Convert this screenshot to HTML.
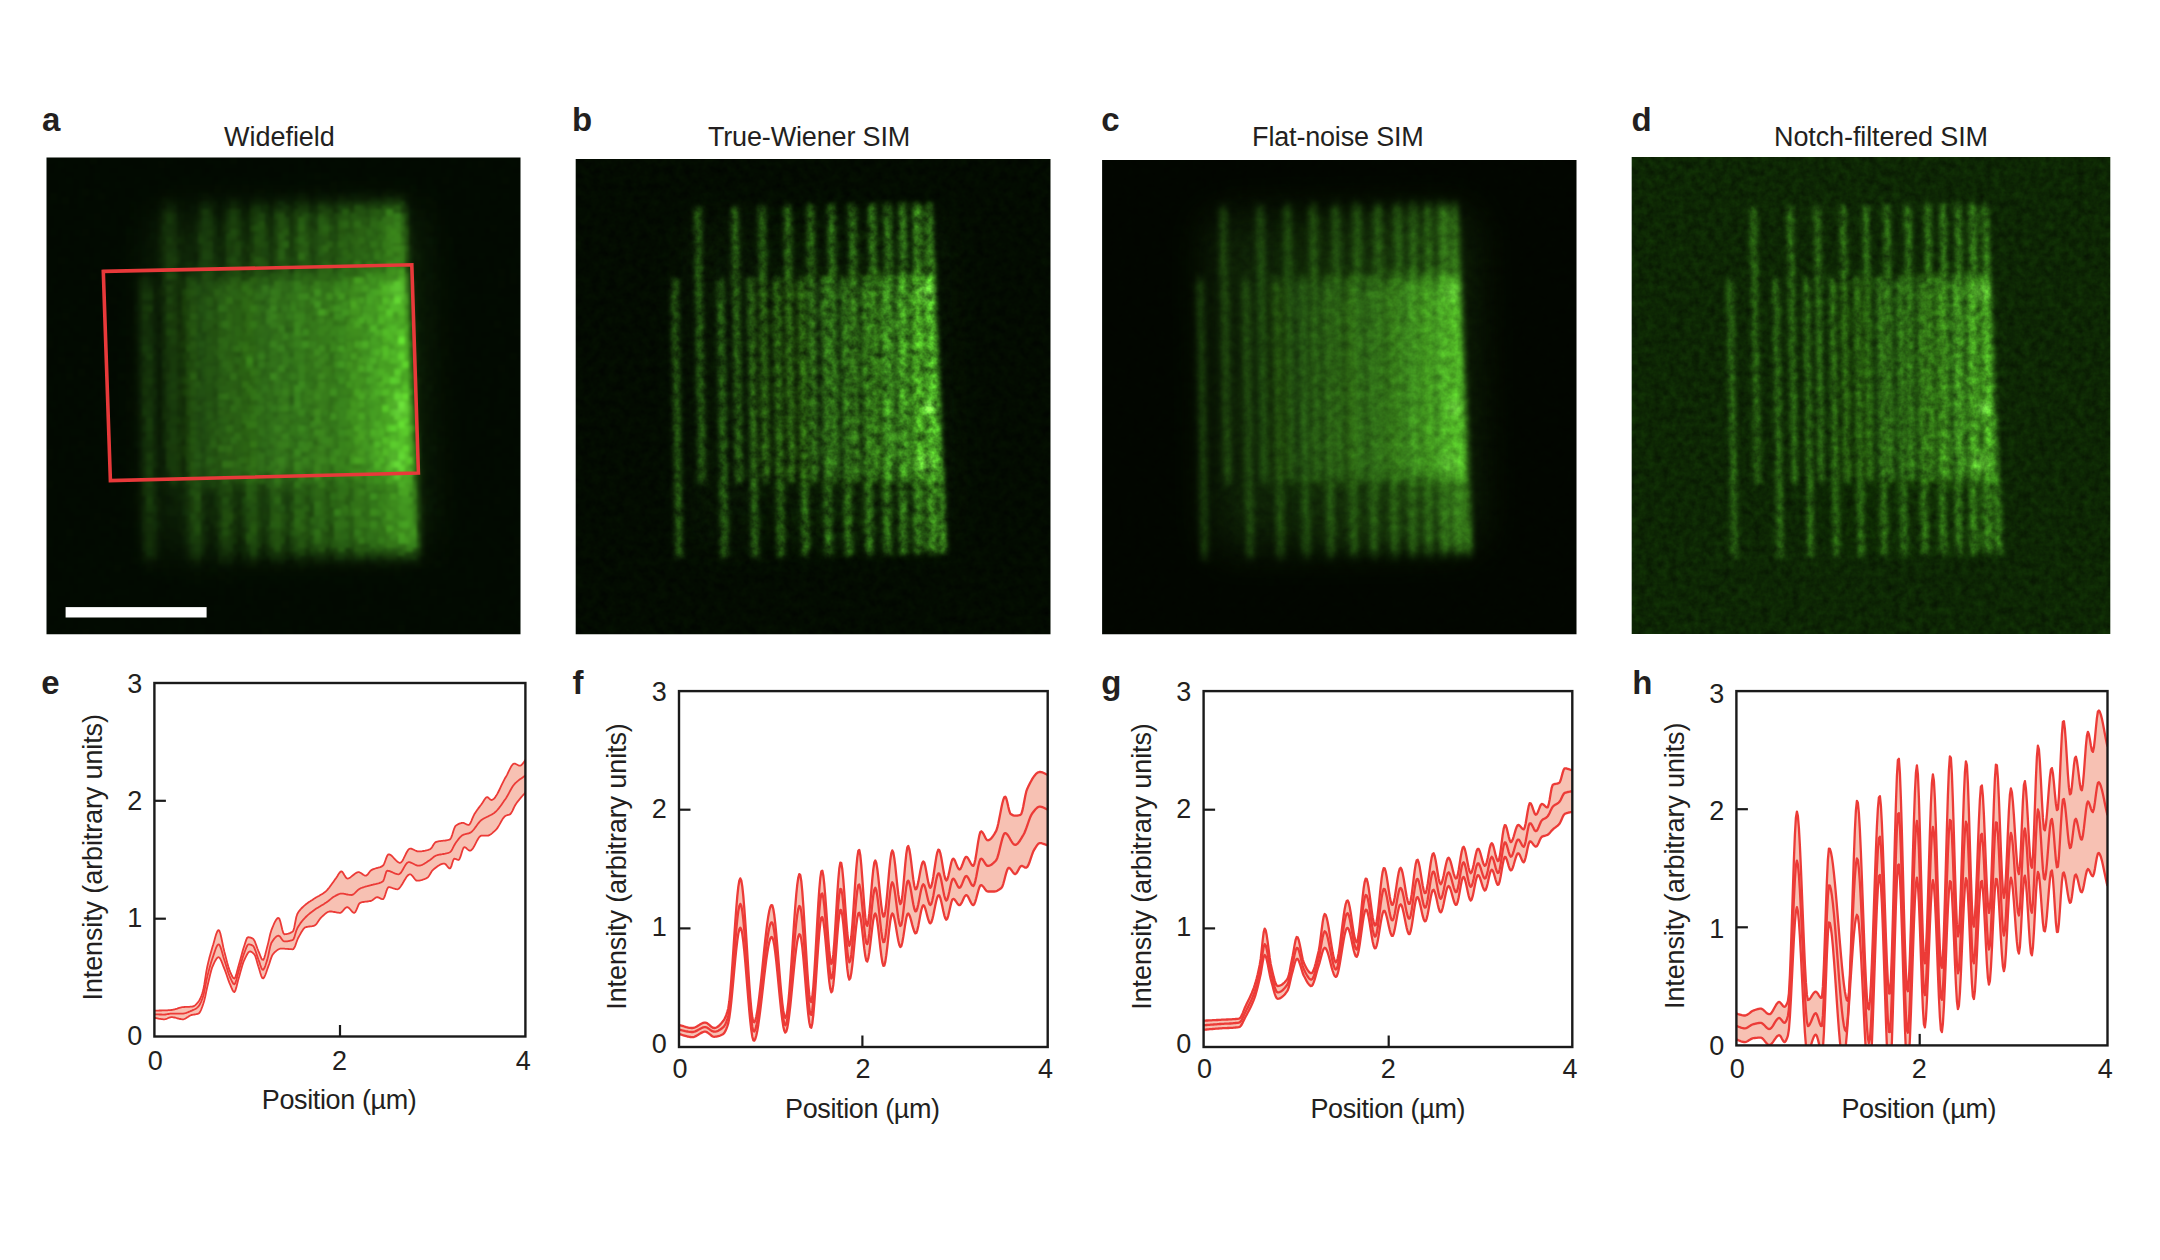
<!DOCTYPE html>
<html lang="en"><head><meta charset="utf-8"><title>Figure</title>
<style>html,body{margin:0;padding:0;background:#fff}body{width:2160px;height:1260px;overflow:hidden}svg{display:block}text{font-family:"Liberation Sans", sans-serif;fill:#231f20}.b{font-weight:bold;font-size:33px}.t{font-size:27px}</style></head><body>
<svg width="2160" height="1260" viewBox="0 0 2160 1260">
<rect width="2160" height="1260" fill="#fff"/>
<clipPath id="pca"><rect x="46.5" y="157.5" width="474.0" height="476.8"/></clipPath>
<filter id="pfa" filterUnits="userSpaceOnUse" x="6" y="118" width="554" height="557" color-interpolation-filters="sRGB"><feGaussianBlur in="SourceGraphic" stdDeviation="3.9 7.0" result="bl"/><feTurbulence type="fractalNoise" baseFrequency="0.190" numOctaves="3" seed="4" result="n"/><feColorMatrix in="n" type="matrix" values="1 0 0 0 0 1 0 0 0 0 1 0 0 0 0 0 0 0 0 1" result="ng"/><feComposite in="bl" in2="ng" operator="arithmetic" k1="0.90" k2="0.55" k3="0" k4="0" result="sp"/><feFlood x="8.5" y="119.5" width="1" height="1" flood-color="#000"/><feComposite width="5" height="5"/><feTile result="grid"/><feComposite in="sp" in2="grid" operator="in"/><feMorphology operator="dilate" radius="2.5" result="px"/><feGaussianBlur in="px" stdDeviation="1.6"/></filter>
<filter id="pha" filterUnits="userSpaceOnUse" x="-14" y="98" width="594" height="597"><feGaussianBlur stdDeviation="22"/></filter>
<filter id="pba" filterUnits="userSpaceOnUse" x="-14" y="98" width="594" height="597"><feGaussianBlur stdDeviation="5.0"/></filter>
<linearGradient id="pga" gradientUnits="userSpaceOnUse" x1="172.0" y1="0" x2="415.0" y2="0"><stop offset="0.000" stop-color="#62dc30" stop-opacity="0.00"/><stop offset="0.103" stop-color="#62dc30" stop-opacity="0.08"/><stop offset="0.309" stop-color="#62dc30" stop-opacity="0.19"/><stop offset="0.720" stop-color="#62dc30" stop-opacity="0.27"/><stop offset="0.905" stop-color="#62dc30" stop-opacity="0.46"/><stop offset="1.000" stop-color="#62dc30" stop-opacity="0.66"/></linearGradient>
<linearGradient id="pta" gradientUnits="userSpaceOnUse" x1="217.0" y1="0" x2="415.0" y2="0"><stop offset="0" stop-color="#62dc30" stop-opacity="0"/><stop offset="1" stop-color="#62dc30" stop-opacity="1"/></linearGradient>
<g clip-path="url(#pca)">
<g filter="url(#pfa)">
<rect x="6.5" y="117.5" width="554.0" height="556.8" fill="#020901"/>
<rect x="157.0" y="215.0" width="265.0" height="331.0" fill="#62dc30" opacity="0.12" filter="url(#pha)" transform="rotate(-0.9 284.0 395.0)"/>
<clipPath id="pea"><polygon points="107.0,180 405.3,180 416.2,580 107.0,580"/></clipPath>
<g transform="rotate(-0.9 284.0 395.0)"><g clip-path="url(#pea)">
<rect x="167.1" y="205.0" width="10.0" height="277.0" fill="#62dc30" opacity="0.17"/>
<rect x="204.1" y="205.0" width="10.0" height="277.0" fill="#62dc30" opacity="0.19"/>
<rect x="231.1" y="205.0" width="10.0" height="277.0" fill="#62dc30" opacity="0.20"/>
<rect x="256.8" y="205.0" width="10.0" height="277.0" fill="#62dc30" opacity="0.21"/>
<rect x="279.6" y="205.0" width="10.0" height="277.0" fill="#62dc30" opacity="0.22"/>
<rect x="300.5" y="205.0" width="10.0" height="277.0" fill="#62dc30" opacity="0.23"/>
<rect x="321.5" y="205.0" width="10.0" height="277.0" fill="#62dc30" opacity="0.23"/>
<rect x="341.5" y="205.0" width="10.0" height="277.0" fill="#62dc30" opacity="0.24"/>
<rect x="356.8" y="205.0" width="10.0" height="277.0" fill="#62dc30" opacity="0.25"/>
<rect x="371.8" y="205.0" width="10.0" height="277.0" fill="#62dc30" opacity="0.26"/>
<rect x="385.8" y="205.0" width="10.0" height="277.0" fill="#62dc30" opacity="0.26"/>
<rect x="400.5" y="205.0" width="10.0" height="277.0" fill="#62dc30" opacity="0.27"/>
<rect x="142.9" y="277.0" width="10.0" height="279.0" fill="#62dc30" opacity="0.18"/>
<rect x="188.6" y="277.0" width="10.0" height="279.0" fill="#62dc30" opacity="0.21"/>
<rect x="219.1" y="277.0" width="10.0" height="279.0" fill="#62dc30" opacity="0.22"/>
<rect x="244.9" y="277.0" width="10.0" height="279.0" fill="#62dc30" opacity="0.24"/>
<rect x="269.6" y="277.0" width="10.0" height="279.0" fill="#62dc30" opacity="0.25"/>
<rect x="292.6" y="277.0" width="10.0" height="279.0" fill="#62dc30" opacity="0.26"/>
<rect x="312.6" y="277.0" width="10.0" height="279.0" fill="#62dc30" opacity="0.28"/>
<rect x="333.4" y="277.0" width="10.0" height="279.0" fill="#62dc30" opacity="0.29"/>
<rect x="351.6" y="277.0" width="10.0" height="279.0" fill="#62dc30" opacity="0.30"/>
<rect x="367.6" y="277.0" width="10.0" height="279.0" fill="#62dc30" opacity="0.31"/>
<rect x="381.9" y="277.0" width="10.0" height="279.0" fill="#62dc30" opacity="0.32"/>
<rect x="396.9" y="277.0" width="10.0" height="279.0" fill="#62dc30" opacity="0.32"/>
<rect x="407.6" y="277.0" width="10.0" height="279.0" fill="#62dc30" opacity="0.33"/>
<rect x="172.0" y="279.0" width="243.0" height="201.0" fill="url(#pga)" filter="url(#pba)"/>
<rect x="217.0" y="209.0" width="198" height="68.0" fill="url(#pta)" opacity="0.24" filter="url(#pba)"/>
<rect x="217.0" y="482.0" width="198" height="70.0" fill="url(#pta)" opacity="0.34" filter="url(#pba)"/>
<rect x="389.0" y="209.0" width="26" height="343.0" fill="#62dc30" opacity="0.20"/>
</g></g>
<circle cx="400.5" cy="408.0" r="6.0" fill="#8cff58" opacity="0.54"/>
<circle cx="398.0" cy="292.0" r="9.0" fill="#8cff58" opacity="0.23"/>
<circle cx="396.0" cy="463.0" r="10.0" fill="#8cff58" opacity="0.19"/>
</g>
<polygon points="103.3,271.4 411.8,264.8 418.4,473.0 110.4,480.6" fill="none" stroke="#e8393a" stroke-width="3.6"/>
<rect x="65.6" y="607.1" width="141" height="10.4" fill="#fff"/>
</g>
<clipPath id="pcb"><rect x="575.7" y="159.0" width="474.8" height="475.2"/></clipPath>
<filter id="pfb" filterUnits="userSpaceOnUse" x="536" y="119" width="555" height="555" color-interpolation-filters="sRGB"><feGaussianBlur in="SourceGraphic" stdDeviation="2.7 2.7" result="bl"/><feTurbulence type="fractalNoise" baseFrequency="0.120" numOctaves="3" seed="7" result="n"/><feColorMatrix in="n" type="matrix" values="1 0 0 0 0 1 0 0 0 0 1 0 0 0 0 0 0 0 0 1" result="ng"/><feComposite in="bl" in2="ng" operator="arithmetic" k1="1.30" k2="0.35" k3="0" k4="0" result="sp"/></filter>
<filter id="phb" filterUnits="userSpaceOnUse" x="516" y="99" width="595" height="595"><feGaussianBlur stdDeviation="22"/></filter>
<filter id="pbb" filterUnits="userSpaceOnUse" x="516" y="99" width="595" height="595"><feGaussianBlur stdDeviation="7.0"/></filter>
<linearGradient id="pgb" gradientUnits="userSpaceOnUse" x1="735.7" y1="0" x2="943.7" y2="0"><stop offset="0.000" stop-color="#62dc30" stop-opacity="0.00"/><stop offset="0.192" stop-color="#62dc30" stop-opacity="0.04"/><stop offset="0.577" stop-color="#62dc30" stop-opacity="0.12"/><stop offset="0.865" stop-color="#62dc30" stop-opacity="0.29"/><stop offset="1.000" stop-color="#62dc30" stop-opacity="0.46"/></linearGradient>
<linearGradient id="ptb" gradientUnits="userSpaceOnUse" x1="745.7" y1="0" x2="943.7" y2="0"><stop offset="0" stop-color="#62dc30" stop-opacity="0"/><stop offset="1" stop-color="#62dc30" stop-opacity="1"/></linearGradient>
<g clip-path="url(#pcb)">
<g filter="url(#pfb)">
<rect x="535.7" y="119.0" width="554.8" height="555.2" fill="#030b01"/>
<rect x="685.7" y="215.0" width="265.0" height="331.0" fill="#62dc30" opacity="0.04" filter="url(#phb)" transform="rotate(-0.9 812.7 395.0)"/>
<clipPath id="peb"><polygon points="635.7,180 934.0,180 944.9,580 635.7,580"/></clipPath>
<g transform="rotate(-0.9 812.7 395.0)"><g clip-path="url(#peb)">
<rect x="697.3" y="205.0" width="7.0" height="277.0" fill="#62dc30" opacity="0.34"/>
<rect x="734.3" y="205.0" width="7.0" height="277.0" fill="#62dc30" opacity="0.36"/>
<rect x="761.3" y="205.0" width="7.0" height="277.0" fill="#62dc30" opacity="0.38"/>
<rect x="787.0" y="205.0" width="7.0" height="277.0" fill="#62dc30" opacity="0.39"/>
<rect x="809.8" y="205.0" width="7.0" height="277.0" fill="#62dc30" opacity="0.40"/>
<rect x="830.7" y="205.0" width="7.0" height="277.0" fill="#62dc30" opacity="0.41"/>
<rect x="851.7" y="205.0" width="7.0" height="277.0" fill="#62dc30" opacity="0.42"/>
<rect x="871.7" y="205.0" width="7.0" height="277.0" fill="#62dc30" opacity="0.43"/>
<rect x="887.0" y="205.0" width="7.0" height="277.0" fill="#62dc30" opacity="0.44"/>
<rect x="902.0" y="205.0" width="7.0" height="277.0" fill="#62dc30" opacity="0.45"/>
<rect x="916.0" y="205.0" width="7.0" height="277.0" fill="#62dc30" opacity="0.46"/>
<rect x="930.7" y="205.0" width="7.0" height="277.0" fill="#62dc30" opacity="0.47"/>
<rect x="673.1" y="277.0" width="7.0" height="279.0" fill="#62dc30" opacity="0.33"/>
<rect x="718.8" y="277.0" width="7.0" height="279.0" fill="#62dc30" opacity="0.35"/>
<rect x="749.3" y="277.0" width="7.0" height="279.0" fill="#62dc30" opacity="0.37"/>
<rect x="775.1" y="277.0" width="7.0" height="279.0" fill="#62dc30" opacity="0.38"/>
<rect x="799.8" y="277.0" width="7.0" height="279.0" fill="#62dc30" opacity="0.40"/>
<rect x="822.8" y="277.0" width="7.0" height="279.0" fill="#62dc30" opacity="0.41"/>
<rect x="842.8" y="277.0" width="7.0" height="279.0" fill="#62dc30" opacity="0.42"/>
<rect x="863.6" y="277.0" width="7.0" height="279.0" fill="#62dc30" opacity="0.43"/>
<rect x="881.8" y="277.0" width="7.0" height="279.0" fill="#62dc30" opacity="0.44"/>
<rect x="897.8" y="277.0" width="7.0" height="279.0" fill="#62dc30" opacity="0.45"/>
<rect x="912.1" y="277.0" width="7.0" height="279.0" fill="#62dc30" opacity="0.46"/>
<rect x="927.1" y="277.0" width="7.0" height="279.0" fill="#62dc30" opacity="0.46"/>
<rect x="937.8" y="277.0" width="7.0" height="279.0" fill="#62dc30" opacity="0.47"/>
<rect x="735.7" y="279.0" width="208.0" height="201.0" fill="url(#pgb)" filter="url(#pbb)"/>
<rect x="745.7" y="209.0" width="198" height="68.0" fill="url(#ptb)" opacity="0.05" filter="url(#pbb)"/>
<rect x="745.7" y="482.0" width="198" height="70.0" fill="url(#ptb)" opacity="0.10" filter="url(#pbb)"/>
<rect x="917.7" y="209.0" width="26" height="343.0" fill="#62dc30" opacity="0.20"/>
</g></g>
<circle cx="929.2" cy="408.0" r="6.0" fill="#8cff58" opacity="0.90"/>
<circle cx="926.7" cy="292.0" r="9.0" fill="#8cff58" opacity="0.38"/>
<circle cx="924.7" cy="463.0" r="10.0" fill="#8cff58" opacity="0.32"/>
</g>
</g>
<clipPath id="pcc"><rect x="1102.1" y="160.0" width="474.4" height="474.2"/></clipPath>
<filter id="pfc" filterUnits="userSpaceOnUse" x="1062" y="120" width="554" height="554" color-interpolation-filters="sRGB"><feGaussianBlur in="SourceGraphic" stdDeviation="3.0 5.0" result="bl"/><feTurbulence type="fractalNoise" baseFrequency="0.120" numOctaves="3" seed="11" result="n"/><feColorMatrix in="n" type="matrix" values="1 0 0 0 0 1 0 0 0 0 1 0 0 0 0 0 0 0 0 1" result="ng"/><feComposite in="bl" in2="ng" operator="arithmetic" k1="0.50" k2="0.75" k3="0" k4="0" result="sp"/></filter>
<filter id="phc" filterUnits="userSpaceOnUse" x="1042" y="100" width="594" height="594"><feGaussianBlur stdDeviation="22"/></filter>
<filter id="pbc" filterUnits="userSpaceOnUse" x="1042" y="100" width="594" height="594"><feGaussianBlur stdDeviation="7.0"/></filter>
<linearGradient id="pgc" gradientUnits="userSpaceOnUse" x1="1261.1" y1="0" x2="1469.1" y2="0"><stop offset="0.000" stop-color="#62dc30" stop-opacity="0.00"/><stop offset="0.216" stop-color="#62dc30" stop-opacity="0.11"/><stop offset="0.577" stop-color="#62dc30" stop-opacity="0.24"/><stop offset="0.817" stop-color="#62dc30" stop-opacity="0.46"/><stop offset="1.000" stop-color="#62dc30" stop-opacity="0.68"/></linearGradient>
<linearGradient id="ptc" gradientUnits="userSpaceOnUse" x1="1271.1" y1="0" x2="1469.1" y2="0"><stop offset="0" stop-color="#62dc30" stop-opacity="0"/><stop offset="1" stop-color="#62dc30" stop-opacity="1"/></linearGradient>
<g clip-path="url(#pcc)">
<g filter="url(#pfc)">
<rect x="1062.1" y="120.0" width="554.4" height="554.2" fill="#020600"/>
<rect x="1211.1" y="215.0" width="265.0" height="331.0" fill="#62dc30" opacity="0.13" filter="url(#phc)" transform="rotate(-0.9 1338.1 395.0)"/>
<clipPath id="pec"><polygon points="1161.1,180 1459.4,180 1470.3,580 1161.1,580"/></clipPath>
<g transform="rotate(-0.9 1338.1 395.0)"><g clip-path="url(#pec)">
<rect x="1222.9" y="205.0" width="6.5" height="277.0" fill="#62dc30" opacity="0.27"/>
<rect x="1259.9" y="205.0" width="6.5" height="277.0" fill="#62dc30" opacity="0.29"/>
<rect x="1286.9" y="205.0" width="6.5" height="277.0" fill="#62dc30" opacity="0.31"/>
<rect x="1312.6" y="205.0" width="6.5" height="277.0" fill="#62dc30" opacity="0.32"/>
<rect x="1335.4" y="205.0" width="6.5" height="277.0" fill="#62dc30" opacity="0.33"/>
<rect x="1356.3" y="205.0" width="6.5" height="277.0" fill="#62dc30" opacity="0.34"/>
<rect x="1377.3" y="205.0" width="6.5" height="277.0" fill="#62dc30" opacity="0.35"/>
<rect x="1397.3" y="205.0" width="6.5" height="277.0" fill="#62dc30" opacity="0.36"/>
<rect x="1412.6" y="205.0" width="6.5" height="277.0" fill="#62dc30" opacity="0.37"/>
<rect x="1427.6" y="205.0" width="6.5" height="277.0" fill="#62dc30" opacity="0.38"/>
<rect x="1441.6" y="205.0" width="6.5" height="277.0" fill="#62dc30" opacity="0.39"/>
<rect x="1456.3" y="205.0" width="6.5" height="277.0" fill="#62dc30" opacity="0.40"/>
<rect x="1198.8" y="277.0" width="6.5" height="279.0" fill="#62dc30" opacity="0.26"/>
<rect x="1244.4" y="277.0" width="6.5" height="279.0" fill="#62dc30" opacity="0.28"/>
<rect x="1274.9" y="277.0" width="6.5" height="279.0" fill="#62dc30" opacity="0.30"/>
<rect x="1300.8" y="277.0" width="6.5" height="279.0" fill="#62dc30" opacity="0.31"/>
<rect x="1325.4" y="277.0" width="6.5" height="279.0" fill="#62dc30" opacity="0.33"/>
<rect x="1348.4" y="277.0" width="6.5" height="279.0" fill="#62dc30" opacity="0.34"/>
<rect x="1368.4" y="277.0" width="6.5" height="279.0" fill="#62dc30" opacity="0.35"/>
<rect x="1389.2" y="277.0" width="6.5" height="279.0" fill="#62dc30" opacity="0.36"/>
<rect x="1407.4" y="277.0" width="6.5" height="279.0" fill="#62dc30" opacity="0.37"/>
<rect x="1423.4" y="277.0" width="6.5" height="279.0" fill="#62dc30" opacity="0.38"/>
<rect x="1437.8" y="277.0" width="6.5" height="279.0" fill="#62dc30" opacity="0.39"/>
<rect x="1452.8" y="277.0" width="6.5" height="279.0" fill="#62dc30" opacity="0.39"/>
<rect x="1463.4" y="277.0" width="6.5" height="279.0" fill="#62dc30" opacity="0.40"/>
<rect x="1261.1" y="279.0" width="208.0" height="201.0" fill="url(#pgc)" filter="url(#pbc)"/>
<rect x="1271.1" y="209.0" width="198" height="68.0" fill="url(#ptc)" opacity="0.12" filter="url(#pbc)"/>
<rect x="1271.1" y="482.0" width="198" height="70.0" fill="url(#ptc)" opacity="0.18" filter="url(#pbc)"/>
<rect x="1443.1" y="209.0" width="26" height="343.0" fill="#62dc30" opacity="0.22"/>
</g></g>
<circle cx="1454.6" cy="408.0" r="6.0" fill="#8cff58" opacity="0.72"/>
<circle cx="1452.1" cy="292.0" r="9.0" fill="#8cff58" opacity="0.30"/>
<circle cx="1450.1" cy="463.0" r="10.0" fill="#8cff58" opacity="0.26"/>
</g>
</g>
<clipPath id="pcd"><rect x="1631.7" y="157.1" width="478.6" height="477.0"/></clipPath>
<filter id="pfd" filterUnits="userSpaceOnUse" x="1592" y="117" width="559" height="557" color-interpolation-filters="sRGB"><feGaussianBlur in="SourceGraphic" stdDeviation="2.5 2.5" result="bl"/><feTurbulence type="fractalNoise" baseFrequency="0.130" numOctaves="3" seed="19" result="n"/><feColorMatrix in="n" type="matrix" values="1 0 0 0 0 1 0 0 0 0 1 0 0 0 0 0 0 0 0 1" result="ng"/><feComposite in="bl" in2="ng" operator="arithmetic" k1="1.00" k2="0.50" k3="0" k4="0" result="sp"/></filter>
<filter id="phd" filterUnits="userSpaceOnUse" x="1572" y="97" width="599" height="597"><feGaussianBlur stdDeviation="22"/></filter>
<filter id="pbd" filterUnits="userSpaceOnUse" x="1572" y="97" width="599" height="597"><feGaussianBlur stdDeviation="7.0"/></filter>
<linearGradient id="pgd" gradientUnits="userSpaceOnUse" x1="1821.2" y1="0" x2="1999.2" y2="0"><stop offset="0.000" stop-color="#66e233" stop-opacity="0.00"/><stop offset="0.281" stop-color="#66e233" stop-opacity="0.06"/><stop offset="0.674" stop-color="#66e233" stop-opacity="0.16"/><stop offset="1.000" stop-color="#66e233" stop-opacity="0.30"/></linearGradient>
<linearGradient id="ptd" gradientUnits="userSpaceOnUse" x1="1801.2" y1="0" x2="1999.2" y2="0"><stop offset="0" stop-color="#66e233" stop-opacity="0"/><stop offset="1" stop-color="#66e233" stop-opacity="1"/></linearGradient>
<g clip-path="url(#pcd)">
<g filter="url(#pfd)">
<rect x="1591.7" y="117.1" width="558.6" height="557.0" fill="#0d2604"/>
<clipPath id="ped"><polygon points="1691.2,180 1989.5,180 2000.4,580 1691.2,580"/></clipPath>
<g transform="rotate(-0.9 1868.2 395.0)"><g clip-path="url(#ped)">
<rect x="1753.3" y="205.0" width="6.0" height="277.0" fill="#66e233" opacity="0.34"/>
<rect x="1790.3" y="205.0" width="6.0" height="277.0" fill="#66e233" opacity="0.36"/>
<rect x="1817.3" y="205.0" width="6.0" height="277.0" fill="#66e233" opacity="0.37"/>
<rect x="1843.0" y="205.0" width="6.0" height="277.0" fill="#66e233" opacity="0.38"/>
<rect x="1865.8" y="205.0" width="6.0" height="277.0" fill="#66e233" opacity="0.39"/>
<rect x="1886.7" y="205.0" width="6.0" height="277.0" fill="#66e233" opacity="0.40"/>
<rect x="1907.7" y="205.0" width="6.0" height="277.0" fill="#66e233" opacity="0.41"/>
<rect x="1927.7" y="205.0" width="6.0" height="277.0" fill="#66e233" opacity="0.42"/>
<rect x="1943.0" y="205.0" width="6.0" height="277.0" fill="#66e233" opacity="0.43"/>
<rect x="1958.0" y="205.0" width="6.0" height="277.0" fill="#66e233" opacity="0.43"/>
<rect x="1972.0" y="205.0" width="6.0" height="277.0" fill="#66e233" opacity="0.44"/>
<rect x="1986.7" y="205.0" width="6.0" height="277.0" fill="#66e233" opacity="0.45"/>
<rect x="1729.1" y="277.0" width="6.0" height="279.0" fill="#66e233" opacity="0.33"/>
<rect x="1774.8" y="277.0" width="6.0" height="279.0" fill="#66e233" opacity="0.35"/>
<rect x="1805.3" y="277.0" width="6.0" height="279.0" fill="#66e233" opacity="0.36"/>
<rect x="1831.1" y="277.0" width="6.0" height="279.0" fill="#66e233" opacity="0.38"/>
<rect x="1855.8" y="277.0" width="6.0" height="279.0" fill="#66e233" opacity="0.39"/>
<rect x="1878.8" y="277.0" width="6.0" height="279.0" fill="#66e233" opacity="0.40"/>
<rect x="1898.8" y="277.0" width="6.0" height="279.0" fill="#66e233" opacity="0.41"/>
<rect x="1919.6" y="277.0" width="6.0" height="279.0" fill="#66e233" opacity="0.42"/>
<rect x="1937.8" y="277.0" width="6.0" height="279.0" fill="#66e233" opacity="0.42"/>
<rect x="1953.8" y="277.0" width="6.0" height="279.0" fill="#66e233" opacity="0.43"/>
<rect x="1968.1" y="277.0" width="6.0" height="279.0" fill="#66e233" opacity="0.44"/>
<rect x="1983.1" y="277.0" width="6.0" height="279.0" fill="#66e233" opacity="0.44"/>
<rect x="1993.8" y="277.0" width="6.0" height="279.0" fill="#66e233" opacity="0.45"/>
<rect x="1821.2" y="279.0" width="178.0" height="201.0" fill="url(#pgd)" filter="url(#pbd)"/>
<rect x="1801.2" y="482.0" width="198" height="70.0" fill="url(#ptd)" opacity="0.05" filter="url(#pbd)"/>
<rect x="1973.2" y="209.0" width="26" height="343.0" fill="#66e233" opacity="0.12"/>
</g></g>
<circle cx="1984.7" cy="408.0" r="6.0" fill="#8cff58" opacity="0.63"/>
<circle cx="1982.2" cy="292.0" r="9.0" fill="#8cff58" opacity="0.27"/>
<circle cx="1980.2" cy="463.0" r="10.0" fill="#8cff58" opacity="0.22"/>
</g>
</g>
<text class="b" x="42.1" y="131.4">a</text>
<text class="b" x="572.0" y="131.4">b</text>
<text class="b" x="1101.2" y="131.4">c</text>
<text class="b" x="1631.4" y="131.4">d</text>
<text class="b" x="41.2" y="693.7">e</text>
<text class="b" x="572.5" y="694.3">f</text>
<text class="b" x="1101.2" y="693.5">g</text>
<text class="b" x="1632.3" y="694.1">h</text>
<text class="t" x="224.1" y="146.2" textLength="110.7" lengthAdjust="spacing">Widefield</text>
<text class="t" x="707.9" y="146.2" textLength="202.4" lengthAdjust="spacing">True-Wiener SIM</text>
<text class="t" x="1252.1" y="146.2" textLength="171.7" lengthAdjust="spacing">Flat-noise SIM</text>
<text class="t" x="1774.1" y="146.2" textLength="214.0" lengthAdjust="spacing">Notch-filtered SIM</text>
<clipPath id="cpe"><rect x="154.4" y="683.0" width="371.0" height="353.5"/></clipPath>
<g clip-path="url(#cpe)"><path d="M154.3,1010.7 155.3,1010.7 156.3,1010.6 157.3,1010.6 158.3,1010.6 159.3,1010.5 160.3,1010.5 161.3,1010.5 162.3,1010.4 163.3,1010.4 164.3,1010.4 165.3,1010.3 166.3,1010.3 167.3,1010.3 168.3,1010.2 169.3,1010.1 170.3,1010.1 171.3,1010.0 172.3,1009.9 173.3,1009.7 174.3,1009.5 175.3,1009.2 176.3,1008.9 177.3,1008.6 178.3,1008.2 179.3,1007.9 180.3,1007.6 181.3,1007.4 182.3,1007.2 183.3,1007.1 184.3,1007.0 185.3,1006.9 186.3,1006.9 187.3,1006.9 188.3,1006.8 189.3,1006.8 190.3,1006.7 191.3,1006.6 192.3,1006.5 193.3,1006.3 194.3,1005.9 195.3,1005.1 196.3,1004.2 197.3,1003.0 198.3,1001.8 199.3,1000.4 200.3,998.5 201.3,996.1 202.3,993.2 203.3,989.8 204.3,984.5 205.3,978.1 206.3,971.7 207.3,966.5 208.3,962.2 209.3,958.1 210.3,954.4 211.3,950.9 212.3,947.5 213.3,944.3 214.3,940.7 215.3,937.1 216.3,933.8 217.3,931.3 218.3,930.1 219.3,930.6 220.3,933.3 221.3,937.5 222.3,942.3 223.3,947.2 224.3,951.4 225.3,955.2 226.3,959.1 227.3,963.0 228.3,966.5 229.3,969.6 230.3,972.1 231.3,974.4 232.3,976.5 233.3,978.0 234.3,978.6 235.3,977.4 236.3,974.4 237.3,970.5 238.3,966.7 239.3,963.3 240.3,959.7 241.3,956.0 242.3,952.3 243.3,948.8 244.3,945.7 245.3,942.6 246.3,939.6 247.3,937.5 248.3,937.2 249.3,937.3 250.3,937.5 251.3,937.9 252.3,938.3 253.3,938.9 254.3,940.4 255.3,942.7 256.3,945.4 257.3,948.2 258.3,950.8 259.3,953.1 260.3,955.7 261.3,958.2 262.3,959.7 263.3,959.8 264.3,957.8 265.3,954.3 266.3,950.4 267.3,946.6 268.3,942.6 269.3,938.1 270.3,933.8 271.3,930.4 272.3,927.9 273.3,925.5 274.3,923.2 275.3,921.2 276.3,919.6 277.3,918.4 278.3,917.9 279.3,918.6 280.3,921.4 281.3,925.5 282.3,929.7 283.3,933.0 284.3,934.3 285.3,934.2 286.3,934.1 287.3,933.9 288.3,933.7 289.3,933.3 290.3,932.9 291.3,932.4 292.3,931.8 293.3,930.8 294.3,927.2 295.3,922.0 296.3,917.0 297.3,914.0 298.3,912.3 299.3,910.8 300.3,909.6 301.3,908.5 302.3,907.5 303.3,906.6 304.3,905.7 305.3,904.8 306.3,904.0 307.3,903.3 308.3,902.5 309.3,901.8 310.3,901.2 311.3,900.5 312.3,899.9 313.3,899.2 314.3,898.6 315.3,897.9 316.3,897.3 317.3,896.8 318.3,896.2 319.3,895.7 320.3,895.1 321.3,894.5 322.3,893.9 323.3,893.3 324.3,892.6 325.3,891.8 326.3,890.9 327.3,889.9 328.3,888.7 329.3,887.5 330.3,886.1 331.3,884.7 332.3,883.3 333.3,881.9 334.3,880.5 335.3,879.1 336.3,877.8 337.3,876.2 338.3,874.5 339.3,873.1 340.3,871.9 341.3,871.4 342.3,871.9 343.3,873.2 344.3,875.0 345.3,876.6 346.3,877.9 347.3,878.6 348.3,878.4 349.3,878.0 350.3,877.4 351.3,876.6 352.3,875.8 353.3,875.0 354.3,874.2 355.3,873.4 356.3,872.8 357.3,872.4 358.3,872.2 359.3,872.2 360.3,872.7 361.3,873.3 362.3,874.0 363.3,874.8 364.3,875.3 365.3,875.7 366.3,875.6 367.3,874.8 368.3,873.6 369.3,872.3 370.3,871.0 371.3,870.1 372.3,869.6 373.3,869.1 374.3,868.8 375.3,868.5 376.3,868.2 377.3,868.0 378.3,867.7 379.3,867.4 380.3,867.1 381.3,866.6 382.3,866.1 383.3,865.3 384.3,863.4 385.3,860.7 386.3,857.9 387.3,855.6 388.3,854.4 389.3,854.4 390.3,854.8 391.3,855.5 392.3,856.4 393.3,857.5 394.3,858.6 395.3,859.7 396.3,860.7 397.3,861.6 398.3,862.3 399.3,862.8 400.3,862.8 401.3,862.2 402.3,861.0 403.3,859.2 404.3,857.2 405.3,855.1 406.3,853.0 407.3,851.2 408.3,849.7 409.3,848.8 410.3,848.6 411.3,848.7 412.3,849.1 413.3,849.5 414.3,850.0 415.3,850.5 416.3,850.9 417.3,851.3 418.3,851.4 419.3,851.4 420.3,851.4 421.3,851.3 422.3,851.2 423.3,851.0 424.3,850.9 425.3,850.7 426.3,850.4 427.3,850.2 428.3,849.9 429.3,849.5 430.3,849.1 431.3,848.2 432.3,846.7 433.3,845.0 434.3,843.5 435.3,842.4 436.3,841.9 437.3,841.6 438.3,841.4 439.3,841.2 440.3,841.1 441.3,840.9 442.3,840.8 443.3,840.7 444.3,840.6 445.3,840.5 446.3,840.3 447.3,840.1 448.3,839.9 449.3,839.6 450.3,839.1 451.3,837.4 452.3,834.5 453.3,831.3 454.3,828.3 455.3,826.2 456.3,825.3 457.3,824.7 458.3,824.1 459.3,823.7 460.3,823.3 461.3,823.0 462.3,822.9 463.3,822.9 464.3,823.2 465.3,823.7 466.3,824.2 467.3,824.7 468.3,825.0 469.3,824.7 470.3,823.3 471.3,821.1 472.3,818.7 473.3,816.3 474.3,814.3 475.3,812.7 476.3,811.2 477.3,809.8 478.3,808.4 479.3,807.1 480.3,805.8 481.3,804.5 482.3,803.0 483.3,801.4 484.3,799.8 485.3,798.4 486.3,797.4 487.3,797.2 488.3,797.6 489.3,798.6 490.3,799.5 491.3,800.0 492.3,799.8 493.3,799.3 494.3,798.4 495.3,797.1 496.3,795.6 497.3,793.9 498.3,792.0 499.3,790.0 500.3,787.9 501.3,785.7 502.3,783.6 503.3,781.6 504.3,779.6 505.3,777.8 506.3,776.2 507.3,774.3 508.3,772.2 509.3,770.1 510.3,768.1 511.3,766.3 512.3,764.9 513.3,763.9 514.3,763.6 515.3,763.7 516.3,764.2 517.3,764.7 518.3,765.3 519.3,765.6 520.3,765.7 521.3,765.2 522.3,764.2 523.3,762.9 524.3,761.5 525.3,760.1 526.0,759.3 526.0,791.7 525.3,792.6 524.3,793.8 523.3,794.9 522.3,796.0 521.3,797.2 520.3,798.4 519.3,799.6 518.3,800.8 517.3,802.1 516.3,803.5 515.3,805.0 514.3,806.9 513.3,809.0 512.3,811.1 511.3,812.9 510.3,814.1 509.3,814.6 508.3,814.9 507.3,815.2 506.3,815.5 505.3,816.0 504.3,816.9 503.3,818.1 502.3,819.6 501.3,821.3 500.3,823.1 499.3,824.9 498.3,826.6 497.3,828.2 496.3,829.4 495.3,830.4 494.3,831.3 493.3,832.2 492.3,833.1 491.3,833.9 490.3,834.6 489.3,835.2 488.3,835.6 487.3,835.7 486.3,835.7 485.3,835.7 484.3,835.7 483.3,835.7 482.3,835.7 481.3,835.7 480.3,836.1 479.3,837.1 478.3,838.5 477.3,840.2 476.3,842.1 475.3,844.1 474.3,846.0 473.3,847.7 472.3,849.2 471.3,850.2 470.3,850.7 469.3,850.6 468.3,849.9 467.3,849.1 466.3,848.1 465.3,847.4 464.3,847.1 463.3,848.2 462.3,850.8 461.3,854.1 460.3,857.2 459.3,859.4 458.3,860.0 457.3,859.7 456.3,859.2 455.3,858.8 454.3,858.6 453.3,860.0 452.3,863.1 451.3,866.4 450.3,868.4 449.3,868.4 448.3,867.5 447.3,866.3 446.3,865.0 445.3,864.0 444.3,863.6 443.3,863.6 442.3,863.9 441.3,864.2 440.3,864.6 439.3,865.2 438.3,865.8 437.3,866.5 436.3,867.2 435.3,868.0 434.3,868.8 433.3,869.6 432.3,870.6 431.3,872.0 430.3,873.7 429.3,875.4 428.3,876.8 427.3,877.8 426.3,878.3 425.3,878.7 424.3,879.2 423.3,879.5 422.3,879.9 421.3,880.2 420.3,880.4 419.3,880.6 418.3,880.7 417.3,880.7 416.3,880.5 415.3,879.6 414.3,878.5 413.3,877.1 412.3,875.8 411.3,874.8 410.3,874.3 409.3,874.4 408.3,875.0 407.3,876.0 406.3,877.3 405.3,878.9 404.3,880.5 403.3,882.3 402.3,884.0 401.3,885.6 400.3,887.0 399.3,888.2 398.3,889.0 397.3,889.3 396.3,889.2 395.3,889.0 394.3,888.7 393.3,888.4 392.3,888.0 391.3,887.7 390.3,887.4 389.3,887.2 388.3,887.2 387.3,888.7 386.3,891.4 385.3,894.6 384.3,897.4 383.3,899.1 382.3,899.2 381.3,898.9 380.3,898.4 379.3,897.8 378.3,897.4 377.3,897.1 376.3,897.3 375.3,897.9 374.3,898.7 373.3,899.6 372.3,900.3 371.3,900.8 370.3,901.0 369.3,901.2 368.3,901.4 367.3,901.5 366.3,901.6 365.3,901.7 364.3,901.9 363.3,902.0 362.3,902.2 361.3,902.4 360.3,902.8 359.3,903.5 358.3,905.3 357.3,907.8 356.3,910.2 355.3,912.1 354.3,912.9 353.3,912.6 352.3,911.8 351.3,910.7 350.3,909.5 349.3,908.4 348.3,907.5 347.3,907.1 346.3,907.4 345.3,908.1 344.3,909.2 343.3,910.3 342.3,911.5 341.3,912.4 340.3,912.8 339.3,912.8 338.3,912.7 337.3,912.6 336.3,912.4 335.3,912.2 334.3,912.0 333.3,911.8 332.3,911.6 331.3,911.5 330.3,911.4 329.3,911.5 328.3,911.8 327.3,912.3 326.3,912.9 325.3,913.7 324.3,914.6 323.3,915.5 322.3,916.4 321.3,917.3 320.3,918.4 319.3,919.8 318.3,921.3 317.3,922.8 316.3,924.1 315.3,925.1 314.3,925.7 313.3,926.0 312.3,926.2 311.3,926.3 310.3,926.4 309.3,926.5 308.3,926.6 307.3,926.8 306.3,927.0 305.3,927.3 304.3,928.1 303.3,929.2 302.3,930.7 301.3,932.3 300.3,934.1 299.3,935.9 298.3,937.7 297.3,940.0 296.3,942.8 295.3,945.6 294.3,947.8 293.3,949.1 292.3,949.3 291.3,949.2 290.3,949.2 289.3,949.1 288.3,949.0 287.3,948.9 286.3,948.8 285.3,948.8 284.3,948.7 283.3,948.6 282.3,948.6 281.3,948.6 280.3,948.7 279.3,949.0 278.3,949.5 277.3,950.1 276.3,950.9 275.3,951.7 274.3,952.7 273.3,953.8 272.3,955.2 271.3,957.6 270.3,960.6 269.3,963.8 268.3,966.4 267.3,969.3 266.3,972.3 265.3,975.0 264.3,977.2 263.3,978.4 262.3,978.2 261.3,976.1 260.3,972.9 259.3,969.4 258.3,966.3 257.3,962.9 256.3,959.3 255.3,956.2 254.3,954.3 253.3,953.3 252.3,952.4 251.3,951.8 250.3,951.4 249.3,951.6 248.3,952.5 247.3,954.0 246.3,955.9 245.3,957.9 244.3,960.0 243.3,962.4 242.3,965.5 241.3,969.0 240.3,972.6 239.3,976.2 238.3,979.5 237.3,983.5 236.3,987.6 235.3,990.8 234.3,992.1 233.3,991.4 232.3,989.7 231.3,987.4 230.3,984.9 229.3,982.6 228.3,979.9 227.3,977.0 226.3,974.0 225.3,971.1 224.3,968.6 223.3,966.1 222.3,963.4 221.3,960.9 220.3,958.8 219.3,957.5 218.3,957.2 217.3,957.8 216.3,959.0 215.3,960.7 214.3,962.6 213.3,964.8 212.3,967.1 211.3,970.3 210.3,974.1 209.3,978.3 208.3,982.5 207.3,986.7 206.3,991.4 205.3,996.2 204.3,1000.4 203.3,1003.7 202.3,1006.6 201.3,1009.3 200.3,1011.5 199.3,1013.0 198.3,1013.7 197.3,1014.0 196.3,1014.2 195.3,1014.3 194.3,1014.5 193.3,1014.6 192.3,1014.8 191.3,1015.0 190.3,1015.5 189.3,1016.0 188.3,1016.7 187.3,1017.3 186.3,1018.0 185.3,1018.6 184.3,1019.0 183.3,1019.3 182.3,1019.3 181.3,1019.2 180.3,1019.0 179.3,1018.8 178.3,1018.5 177.3,1018.3 176.3,1018.0 175.3,1017.7 174.3,1017.5 173.3,1017.3 172.3,1017.2 171.3,1017.1 170.3,1017.3 169.3,1017.6 168.3,1018.0 167.3,1018.5 166.3,1018.9 165.3,1019.2 164.3,1019.3 163.3,1019.3 162.3,1019.2 161.3,1019.1 160.3,1018.9 159.3,1018.8 158.3,1018.6 157.3,1018.4 156.3,1018.2 155.3,1018.0 154.3,1017.9Z" fill="#f7c1b3" stroke="none"/>
<path d="M154.3,1010.7 155.3,1010.7 156.3,1010.6 157.3,1010.6 158.3,1010.6 159.3,1010.5 160.3,1010.5 161.3,1010.5 162.3,1010.4 163.3,1010.4 164.3,1010.4 165.3,1010.3 166.3,1010.3 167.3,1010.3 168.3,1010.2 169.3,1010.1 170.3,1010.1 171.3,1010.0 172.3,1009.9 173.3,1009.7 174.3,1009.5 175.3,1009.2 176.3,1008.9 177.3,1008.6 178.3,1008.2 179.3,1007.9 180.3,1007.6 181.3,1007.4 182.3,1007.2 183.3,1007.1 184.3,1007.0 185.3,1006.9 186.3,1006.9 187.3,1006.9 188.3,1006.8 189.3,1006.8 190.3,1006.7 191.3,1006.6 192.3,1006.5 193.3,1006.3 194.3,1005.9 195.3,1005.1 196.3,1004.2 197.3,1003.0 198.3,1001.8 199.3,1000.4 200.3,998.5 201.3,996.1 202.3,993.2 203.3,989.8 204.3,984.5 205.3,978.1 206.3,971.7 207.3,966.5 208.3,962.2 209.3,958.1 210.3,954.4 211.3,950.9 212.3,947.5 213.3,944.3 214.3,940.7 215.3,937.1 216.3,933.8 217.3,931.3 218.3,930.1 219.3,930.6 220.3,933.3 221.3,937.5 222.3,942.3 223.3,947.2 224.3,951.4 225.3,955.2 226.3,959.1 227.3,963.0 228.3,966.5 229.3,969.6 230.3,972.1 231.3,974.4 232.3,976.5 233.3,978.0 234.3,978.6 235.3,977.4 236.3,974.4 237.3,970.5 238.3,966.7 239.3,963.3 240.3,959.7 241.3,956.0 242.3,952.3 243.3,948.8 244.3,945.7 245.3,942.6 246.3,939.6 247.3,937.5 248.3,937.2 249.3,937.3 250.3,937.5 251.3,937.9 252.3,938.3 253.3,938.9 254.3,940.4 255.3,942.7 256.3,945.4 257.3,948.2 258.3,950.8 259.3,953.1 260.3,955.7 261.3,958.2 262.3,959.7 263.3,959.8 264.3,957.8 265.3,954.3 266.3,950.4 267.3,946.6 268.3,942.6 269.3,938.1 270.3,933.8 271.3,930.4 272.3,927.9 273.3,925.5 274.3,923.2 275.3,921.2 276.3,919.6 277.3,918.4 278.3,917.9 279.3,918.6 280.3,921.4 281.3,925.5 282.3,929.7 283.3,933.0 284.3,934.3 285.3,934.2 286.3,934.1 287.3,933.9 288.3,933.7 289.3,933.3 290.3,932.9 291.3,932.4 292.3,931.8 293.3,930.8 294.3,927.2 295.3,922.0 296.3,917.0 297.3,914.0 298.3,912.3 299.3,910.8 300.3,909.6 301.3,908.5 302.3,907.5 303.3,906.6 304.3,905.7 305.3,904.8 306.3,904.0 307.3,903.3 308.3,902.5 309.3,901.8 310.3,901.2 311.3,900.5 312.3,899.9 313.3,899.2 314.3,898.6 315.3,897.9 316.3,897.3 317.3,896.8 318.3,896.2 319.3,895.7 320.3,895.1 321.3,894.5 322.3,893.9 323.3,893.3 324.3,892.6 325.3,891.8 326.3,890.9 327.3,889.9 328.3,888.7 329.3,887.5 330.3,886.1 331.3,884.7 332.3,883.3 333.3,881.9 334.3,880.5 335.3,879.1 336.3,877.8 337.3,876.2 338.3,874.5 339.3,873.1 340.3,871.9 341.3,871.4 342.3,871.9 343.3,873.2 344.3,875.0 345.3,876.6 346.3,877.9 347.3,878.6 348.3,878.4 349.3,878.0 350.3,877.4 351.3,876.6 352.3,875.8 353.3,875.0 354.3,874.2 355.3,873.4 356.3,872.8 357.3,872.4 358.3,872.2 359.3,872.2 360.3,872.7 361.3,873.3 362.3,874.0 363.3,874.8 364.3,875.3 365.3,875.7 366.3,875.6 367.3,874.8 368.3,873.6 369.3,872.3 370.3,871.0 371.3,870.1 372.3,869.6 373.3,869.1 374.3,868.8 375.3,868.5 376.3,868.2 377.3,868.0 378.3,867.7 379.3,867.4 380.3,867.1 381.3,866.6 382.3,866.1 383.3,865.3 384.3,863.4 385.3,860.7 386.3,857.9 387.3,855.6 388.3,854.4 389.3,854.4 390.3,854.8 391.3,855.5 392.3,856.4 393.3,857.5 394.3,858.6 395.3,859.7 396.3,860.7 397.3,861.6 398.3,862.3 399.3,862.8 400.3,862.8 401.3,862.2 402.3,861.0 403.3,859.2 404.3,857.2 405.3,855.1 406.3,853.0 407.3,851.2 408.3,849.7 409.3,848.8 410.3,848.6 411.3,848.7 412.3,849.1 413.3,849.5 414.3,850.0 415.3,850.5 416.3,850.9 417.3,851.3 418.3,851.4 419.3,851.4 420.3,851.4 421.3,851.3 422.3,851.2 423.3,851.0 424.3,850.9 425.3,850.7 426.3,850.4 427.3,850.2 428.3,849.9 429.3,849.5 430.3,849.1 431.3,848.2 432.3,846.7 433.3,845.0 434.3,843.5 435.3,842.4 436.3,841.9 437.3,841.6 438.3,841.4 439.3,841.2 440.3,841.1 441.3,840.9 442.3,840.8 443.3,840.7 444.3,840.6 445.3,840.5 446.3,840.3 447.3,840.1 448.3,839.9 449.3,839.6 450.3,839.1 451.3,837.4 452.3,834.5 453.3,831.3 454.3,828.3 455.3,826.2 456.3,825.3 457.3,824.7 458.3,824.1 459.3,823.7 460.3,823.3 461.3,823.0 462.3,822.9 463.3,822.9 464.3,823.2 465.3,823.7 466.3,824.2 467.3,824.7 468.3,825.0 469.3,824.7 470.3,823.3 471.3,821.1 472.3,818.7 473.3,816.3 474.3,814.3 475.3,812.7 476.3,811.2 477.3,809.8 478.3,808.4 479.3,807.1 480.3,805.8 481.3,804.5 482.3,803.0 483.3,801.4 484.3,799.8 485.3,798.4 486.3,797.4 487.3,797.2 488.3,797.6 489.3,798.6 490.3,799.5 491.3,800.0 492.3,799.8 493.3,799.3 494.3,798.4 495.3,797.1 496.3,795.6 497.3,793.9 498.3,792.0 499.3,790.0 500.3,787.9 501.3,785.7 502.3,783.6 503.3,781.6 504.3,779.6 505.3,777.8 506.3,776.2 507.3,774.3 508.3,772.2 509.3,770.1 510.3,768.1 511.3,766.3 512.3,764.9 513.3,763.9 514.3,763.6 515.3,763.7 516.3,764.2 517.3,764.7 518.3,765.3 519.3,765.6 520.3,765.7 521.3,765.2 522.3,764.2 523.3,762.9 524.3,761.5 525.3,760.1 526.0,759.3" fill="none" stroke="#ec3b37" stroke-width="1.8" stroke-linejoin="round"/>
<path d="M154.3,1014.3 155.3,1014.3 156.3,1014.4 157.3,1014.4 158.3,1014.4 159.3,1014.5 160.3,1014.5 161.3,1014.5 162.3,1014.6 163.3,1014.6 164.3,1014.6 165.3,1014.5 166.3,1014.4 167.3,1014.2 168.3,1014.0 169.3,1013.8 170.3,1013.6 171.3,1013.6 172.3,1013.6 173.3,1013.6 174.3,1013.6 175.3,1013.6 176.3,1013.6 177.3,1013.6 178.3,1013.6 179.3,1013.6 180.3,1013.6 181.3,1013.6 182.3,1013.6 183.3,1013.6 184.3,1013.4 185.3,1013.2 186.3,1012.9 187.3,1012.5 188.3,1012.1 189.3,1011.7 190.3,1011.2 191.3,1010.8 192.3,1010.4 193.3,1009.9 194.3,1009.5 195.3,1009.0 196.3,1008.4 197.3,1007.6 198.3,1006.7 199.3,1005.3 200.3,1003.5 201.3,1001.3 202.3,998.7 203.3,995.8 204.3,991.4 205.3,986.3 206.3,981.0 207.3,976.6 208.3,972.6 209.3,968.8 210.3,965.2 211.3,961.8 212.3,958.8 213.3,955.9 214.3,952.9 215.3,950.0 216.3,947.3 217.3,945.3 218.3,944.3 219.3,944.7 220.3,946.6 221.3,949.6 222.3,953.1 223.3,956.8 224.3,960.0 225.3,963.0 226.3,966.3 227.3,969.6 228.3,972.7 229.3,975.5 230.3,977.8 231.3,980.0 232.3,982.1 233.3,983.7 234.3,984.3 235.3,983.1 236.3,980.0 237.3,976.2 238.3,972.4 239.3,969.1 240.3,965.7 241.3,962.2 242.3,958.7 243.3,955.6 244.3,952.9 245.3,950.2 246.3,947.6 247.3,945.5 248.3,944.4 249.3,944.3 250.3,944.6 251.3,944.9 252.3,945.4 253.3,946.1 254.3,947.8 255.3,950.3 256.3,953.3 257.3,956.4 258.3,959.3 259.3,961.9 260.3,965.0 261.3,967.8 262.3,969.7 263.3,969.8 264.3,968.3 265.3,965.8 266.3,962.7 267.3,959.6 268.3,955.6 269.3,950.8 270.3,946.2 271.3,943.1 272.3,941.5 273.3,939.9 274.3,938.6 275.3,937.5 276.3,936.6 277.3,936.0 278.3,935.7 279.3,936.0 280.3,936.9 281.3,938.4 282.3,939.8 283.3,941.0 284.3,941.4 285.3,941.4 286.3,941.4 287.3,941.3 288.3,941.1 289.3,941.0 290.3,940.7 291.3,940.5 292.3,940.2 293.3,939.6 294.3,937.4 295.3,934.1 296.3,930.7 297.3,928.3 298.3,926.5 299.3,924.9 300.3,923.4 301.3,922.1 302.3,920.8 303.3,919.7 304.3,918.6 305.3,917.5 306.3,916.5 307.3,915.6 308.3,914.7 309.3,913.8 310.3,913.0 311.3,912.2 312.3,911.5 313.3,910.7 314.3,910.0 315.3,909.3 316.3,908.6 317.3,908.0 318.3,907.4 319.3,906.8 320.3,906.2 321.3,905.6 322.3,905.0 323.3,904.4 324.3,903.8 325.3,903.1 326.3,902.5 327.3,901.7 328.3,901.0 329.3,900.2 330.3,899.4 331.3,898.6 332.3,897.8 333.3,897.1 334.3,896.5 335.3,895.9 336.3,895.4 337.3,894.9 338.3,894.4 339.3,894.0 340.3,893.7 341.3,893.6 342.3,893.6 343.3,893.7 344.3,893.9 345.3,894.0 346.3,894.3 347.3,894.5 348.3,894.7 349.3,894.8 350.3,894.9 351.3,895.0 352.3,894.9 353.3,894.4 354.3,893.6 355.3,892.7 356.3,891.7 357.3,890.7 358.3,889.7 359.3,889.0 360.3,888.4 361.3,888.0 362.3,887.7 363.3,887.3 364.3,887.0 365.3,886.7 366.3,886.4 367.3,886.2 368.3,885.9 369.3,885.6 370.3,885.3 371.3,885.0 372.3,884.8 373.3,884.5 374.3,884.3 375.3,884.1 376.3,883.9 377.3,883.6 378.3,883.4 379.3,883.1 380.3,882.7 381.3,882.3 382.3,881.8 383.3,880.9 384.3,878.3 385.3,874.7 386.3,871.7 387.3,870.7 388.3,870.8 389.3,871.0 390.3,871.4 391.3,871.8 392.3,872.2 393.3,872.7 394.3,873.2 395.3,873.6 396.3,873.9 397.3,874.2 398.3,874.3 399.3,874.1 400.3,873.3 401.3,872.1 402.3,870.5 403.3,868.7 404.3,866.9 405.3,865.2 406.3,863.8 407.3,862.7 408.3,862.2 409.3,862.2 410.3,862.4 411.3,862.8 412.3,863.3 413.3,863.8 414.3,864.3 415.3,864.8 416.3,865.2 417.3,865.6 418.3,865.7 419.3,865.7 420.3,865.5 421.3,865.2 422.3,864.8 423.3,864.3 424.3,863.7 425.3,863.1 426.3,862.5 427.3,861.8 428.3,861.1 429.3,860.4 430.3,859.8 431.3,859.1 432.3,858.2 433.3,857.3 434.3,856.5 435.3,855.9 436.3,855.5 437.3,855.2 438.3,854.9 439.3,854.7 440.3,854.5 441.3,854.3 442.3,854.2 443.3,854.0 444.3,853.8 445.3,853.7 446.3,853.4 447.3,853.2 448.3,852.9 449.3,852.5 450.3,852.0 451.3,850.9 452.3,849.2 453.3,847.2 454.3,845.2 455.3,843.5 456.3,842.1 457.3,840.7 458.3,839.4 459.3,838.2 460.3,837.0 461.3,836.1 462.3,835.3 463.3,834.8 464.3,834.4 465.3,834.2 466.3,833.9 467.3,833.7 468.3,833.5 469.3,833.1 470.3,832.7 471.3,832.0 472.3,831.1 473.3,830.0 474.3,828.8 475.3,827.4 476.3,826.1 477.3,824.7 478.3,823.3 479.3,822.1 480.3,821.0 481.3,820.1 482.3,819.4 483.3,818.8 484.3,818.2 485.3,817.7 486.3,817.2 487.3,816.7 488.3,816.3 489.3,815.8 490.3,815.3 491.3,814.8 492.3,814.2 493.3,813.6 494.3,812.9 495.3,812.0 496.3,811.1 497.3,810.0 498.3,808.8 499.3,807.6 500.3,806.3 501.3,804.9 502.3,803.5 503.3,802.1 504.3,800.6 505.3,799.2 506.3,797.7 507.3,796.1 508.3,794.3 509.3,792.4 510.3,790.5 511.3,788.7 512.3,787.0 513.3,785.5 514.3,784.3 515.3,783.2 516.3,782.3 517.3,781.4 518.3,780.6 519.3,779.8 520.3,779.1 521.3,778.4 522.3,777.7 523.3,777.0 524.3,776.3 525.3,775.6 526.0,775.0" fill="none" stroke="#ec3b37" stroke-width="1.8" stroke-linejoin="round"/>
<path d="M154.3,1017.9 155.3,1018.0 156.3,1018.2 157.3,1018.4 158.3,1018.6 159.3,1018.8 160.3,1018.9 161.3,1019.1 162.3,1019.2 163.3,1019.3 164.3,1019.3 165.3,1019.2 166.3,1018.9 167.3,1018.5 168.3,1018.0 169.3,1017.6 170.3,1017.3 171.3,1017.1 172.3,1017.2 173.3,1017.3 174.3,1017.5 175.3,1017.7 176.3,1018.0 177.3,1018.3 178.3,1018.5 179.3,1018.8 180.3,1019.0 181.3,1019.2 182.3,1019.3 183.3,1019.3 184.3,1019.0 185.3,1018.6 186.3,1018.0 187.3,1017.3 188.3,1016.7 189.3,1016.0 190.3,1015.5 191.3,1015.0 192.3,1014.8 193.3,1014.6 194.3,1014.5 195.3,1014.3 196.3,1014.2 197.3,1014.0 198.3,1013.7 199.3,1013.0 200.3,1011.5 201.3,1009.3 202.3,1006.6 203.3,1003.7 204.3,1000.4 205.3,996.2 206.3,991.4 207.3,986.7 208.3,982.5 209.3,978.3 210.3,974.1 211.3,970.3 212.3,967.1 213.3,964.8 214.3,962.6 215.3,960.7 216.3,959.0 217.3,957.8 218.3,957.2 219.3,957.5 220.3,958.8 221.3,960.9 222.3,963.4 223.3,966.1 224.3,968.6 225.3,971.1 226.3,974.0 227.3,977.0 228.3,979.9 229.3,982.6 230.3,984.9 231.3,987.4 232.3,989.7 233.3,991.4 234.3,992.1 235.3,990.8 236.3,987.6 237.3,983.5 238.3,979.5 239.3,976.2 240.3,972.6 241.3,969.0 242.3,965.5 243.3,962.4 244.3,960.0 245.3,957.9 246.3,955.9 247.3,954.0 248.3,952.5 249.3,951.6 250.3,951.4 251.3,951.8 252.3,952.4 253.3,953.3 254.3,954.3 255.3,956.2 256.3,959.3 257.3,962.9 258.3,966.3 259.3,969.4 260.3,972.9 261.3,976.1 262.3,978.2 263.3,978.4 264.3,977.2 265.3,975.0 266.3,972.3 267.3,969.3 268.3,966.4 269.3,963.8 270.3,960.6 271.3,957.6 272.3,955.2 273.3,953.8 274.3,952.7 275.3,951.7 276.3,950.9 277.3,950.1 278.3,949.5 279.3,949.0 280.3,948.7 281.3,948.6 282.3,948.6 283.3,948.6 284.3,948.7 285.3,948.8 286.3,948.8 287.3,948.9 288.3,949.0 289.3,949.1 290.3,949.2 291.3,949.2 292.3,949.3 293.3,949.1 294.3,947.8 295.3,945.6 296.3,942.8 297.3,940.0 298.3,937.7 299.3,935.9 300.3,934.1 301.3,932.3 302.3,930.7 303.3,929.2 304.3,928.1 305.3,927.3 306.3,927.0 307.3,926.8 308.3,926.6 309.3,926.5 310.3,926.4 311.3,926.3 312.3,926.2 313.3,926.0 314.3,925.7 315.3,925.1 316.3,924.1 317.3,922.8 318.3,921.3 319.3,919.8 320.3,918.4 321.3,917.3 322.3,916.4 323.3,915.5 324.3,914.6 325.3,913.7 326.3,912.9 327.3,912.3 328.3,911.8 329.3,911.5 330.3,911.4 331.3,911.5 332.3,911.6 333.3,911.8 334.3,912.0 335.3,912.2 336.3,912.4 337.3,912.6 338.3,912.7 339.3,912.8 340.3,912.8 341.3,912.4 342.3,911.5 343.3,910.3 344.3,909.2 345.3,908.1 346.3,907.4 347.3,907.1 348.3,907.5 349.3,908.4 350.3,909.5 351.3,910.7 352.3,911.8 353.3,912.6 354.3,912.9 355.3,912.1 356.3,910.2 357.3,907.8 358.3,905.3 359.3,903.5 360.3,902.8 361.3,902.4 362.3,902.2 363.3,902.0 364.3,901.9 365.3,901.7 366.3,901.6 367.3,901.5 368.3,901.4 369.3,901.2 370.3,901.0 371.3,900.8 372.3,900.3 373.3,899.6 374.3,898.7 375.3,897.9 376.3,897.3 377.3,897.1 378.3,897.4 379.3,897.8 380.3,898.4 381.3,898.9 382.3,899.2 383.3,899.1 384.3,897.4 385.3,894.6 386.3,891.4 387.3,888.7 388.3,887.2 389.3,887.2 390.3,887.4 391.3,887.7 392.3,888.0 393.3,888.4 394.3,888.7 395.3,889.0 396.3,889.2 397.3,889.3 398.3,889.0 399.3,888.2 400.3,887.0 401.3,885.6 402.3,884.0 403.3,882.3 404.3,880.5 405.3,878.9 406.3,877.3 407.3,876.0 408.3,875.0 409.3,874.4 410.3,874.3 411.3,874.8 412.3,875.8 413.3,877.1 414.3,878.5 415.3,879.6 416.3,880.5 417.3,880.7 418.3,880.7 419.3,880.6 420.3,880.4 421.3,880.2 422.3,879.9 423.3,879.5 424.3,879.2 425.3,878.7 426.3,878.3 427.3,877.8 428.3,876.8 429.3,875.4 430.3,873.7 431.3,872.0 432.3,870.6 433.3,869.6 434.3,868.8 435.3,868.0 436.3,867.2 437.3,866.5 438.3,865.8 439.3,865.2 440.3,864.6 441.3,864.2 442.3,863.9 443.3,863.6 444.3,863.6 445.3,864.0 446.3,865.0 447.3,866.3 448.3,867.5 449.3,868.4 450.3,868.4 451.3,866.4 452.3,863.1 453.3,860.0 454.3,858.6 455.3,858.8 456.3,859.2 457.3,859.7 458.3,860.0 459.3,859.4 460.3,857.2 461.3,854.1 462.3,850.8 463.3,848.2 464.3,847.1 465.3,847.4 466.3,848.1 467.3,849.1 468.3,849.9 469.3,850.6 470.3,850.7 471.3,850.2 472.3,849.2 473.3,847.7 474.3,846.0 475.3,844.1 476.3,842.1 477.3,840.2 478.3,838.5 479.3,837.1 480.3,836.1 481.3,835.7 482.3,835.7 483.3,835.7 484.3,835.7 485.3,835.7 486.3,835.7 487.3,835.7 488.3,835.6 489.3,835.2 490.3,834.6 491.3,833.9 492.3,833.1 493.3,832.2 494.3,831.3 495.3,830.4 496.3,829.4 497.3,828.2 498.3,826.6 499.3,824.9 500.3,823.1 501.3,821.3 502.3,819.6 503.3,818.1 504.3,816.9 505.3,816.0 506.3,815.5 507.3,815.2 508.3,814.9 509.3,814.6 510.3,814.1 511.3,812.9 512.3,811.1 513.3,809.0 514.3,806.9 515.3,805.0 516.3,803.5 517.3,802.1 518.3,800.8 519.3,799.6 520.3,798.4 521.3,797.2 522.3,796.0 523.3,794.9 524.3,793.8 525.3,792.6 526.0,791.7" fill="none" stroke="#ec3b37" stroke-width="1.8" stroke-linejoin="round"/></g>
<rect x="154.4" y="683.0" width="371.0" height="353.5" fill="none" stroke="#1a1a1a" stroke-width="2.4"/>
<line x1="154.4" y1="918.7" x2="165.9" y2="918.7" stroke="#1a1a1a" stroke-width="2.2"/>
<line x1="154.4" y1="800.8" x2="165.9" y2="800.8" stroke="#1a1a1a" stroke-width="2.2"/>
<line x1="340.0" y1="1036.5" x2="340.0" y2="1025.0" stroke="#1a1a1a" stroke-width="2.2"/>
<text class="t" text-anchor="end" x="142.2" y="1044.6">0</text>
<text class="t" text-anchor="end" x="142.2" y="927.3">1</text>
<text class="t" text-anchor="end" x="142.2" y="810.0">2</text>
<text class="t" text-anchor="end" x="142.2" y="692.6">3</text>
<text class="t" text-anchor="middle" x="155.3" y="1069.9">0</text>
<text class="t" text-anchor="middle" x="339.6" y="1069.9">2</text>
<text class="t" text-anchor="middle" x="523.2" y="1069.9">4</text>
<text class="t" x="261.8" y="1108.5" textLength="155" lengthAdjust="spacing">Position (µm)</text>
<text class="t" transform="translate(101.8 857.0) rotate(-90)" x="-143.5" y="0" textLength="286.5" lengthAdjust="spacing">Intensity (arbitrary units)</text>
<clipPath id="cpf"><rect x="679.0" y="691.1" width="368.7" height="355.9"/></clipPath>
<g clip-path="url(#cpf)"><path d="M678.3,1024.7 679.3,1025.0 680.3,1025.3 681.3,1025.6 682.3,1025.9 683.3,1026.2 684.3,1026.5 685.3,1026.8 686.3,1027.1 687.3,1027.3 688.3,1027.6 689.3,1027.8 690.3,1027.9 691.3,1028.0 692.3,1028.0 693.3,1027.9 694.3,1027.7 695.3,1027.3 696.3,1026.8 697.3,1026.2 698.3,1025.6 699.3,1024.9 700.3,1024.3 701.3,1023.7 702.3,1023.2 703.3,1022.9 704.3,1022.6 705.3,1022.6 706.3,1022.8 707.3,1023.3 708.3,1024.1 709.3,1024.9 710.3,1025.8 711.3,1026.7 712.3,1027.4 713.3,1027.9 714.3,1028.0 715.3,1027.9 716.3,1027.5 717.3,1027.0 718.3,1026.3 719.3,1025.4 720.3,1024.4 721.3,1023.3 722.3,1022.1 723.3,1020.8 724.3,1019.3 725.3,1017.4 726.3,1014.9 727.3,1011.9 728.3,1008.2 729.3,1001.5 730.3,991.8 731.3,979.7 732.3,965.9 733.3,951.2 734.3,936.2 735.3,921.5 736.3,908.0 737.3,896.2 738.3,886.9 739.3,880.7 740.3,878.4 741.3,880.5 742.3,886.6 743.3,896.1 744.3,908.3 745.3,922.4 746.3,937.8 747.3,953.7 748.3,969.6 749.3,984.5 750.3,997.9 751.3,1009.1 752.3,1017.3 753.3,1021.9 754.3,1022.3 755.3,1020.4 756.3,1016.5 757.3,1011.1 758.3,1004.3 759.3,996.4 760.3,987.6 761.3,978.3 762.3,968.5 763.3,958.7 764.3,948.9 765.3,939.6 766.3,930.8 767.3,922.9 768.3,916.2 769.3,910.8 770.3,907.0 771.3,905.1 772.3,905.4 773.3,909.0 774.3,915.3 775.3,923.9 776.3,934.3 777.3,945.8 778.3,958.0 779.3,970.4 780.3,982.4 781.3,993.4 782.3,1003.1 783.3,1010.7 784.3,1015.9 785.3,1018.0 786.3,1016.4 787.3,1011.1 788.3,1002.6 789.3,991.7 790.3,978.7 791.3,964.5 792.3,949.5 793.3,934.3 794.3,919.6 795.3,906.0 796.3,894.0 797.3,884.3 798.3,877.5 799.3,874.1 800.3,875.1 801.3,881.2 802.3,891.7 803.3,905.4 804.3,921.2 805.3,938.0 806.3,954.9 807.3,970.7 808.3,984.4 809.3,994.9 810.3,1001.2 811.3,1002.1 812.3,997.1 813.3,987.0 814.3,973.1 815.3,956.7 816.3,938.8 817.3,920.8 818.3,903.9 819.3,889.2 820.3,878.0 821.3,871.4 822.3,870.6 823.3,875.4 824.3,884.5 825.3,896.7 826.3,910.6 827.3,925.2 828.3,939.0 829.3,950.9 830.3,959.6 831.3,963.9 832.3,962.4 833.3,954.7 834.3,942.4 835.3,927.1 836.3,910.5 837.3,894.1 838.3,879.6 839.3,868.5 840.3,862.6 841.3,863.1 842.3,869.3 843.3,879.7 844.3,892.7 845.3,907.0 846.3,920.9 847.3,933.0 848.3,941.8 849.3,945.8 850.3,943.8 851.3,936.5 852.3,925.3 853.3,911.4 854.3,896.4 855.3,881.4 856.3,867.9 857.3,857.3 858.3,850.8 859.3,849.9 860.3,855.2 861.3,865.3 862.3,878.3 863.3,892.5 864.3,906.1 865.3,917.4 866.3,924.5 867.3,925.9 868.3,921.6 869.3,913.4 870.3,902.7 871.3,890.8 872.3,879.2 873.3,869.3 874.3,862.6 875.3,860.5 876.3,863.0 877.3,869.0 878.3,877.3 879.3,886.9 880.3,896.7 881.3,905.6 882.3,912.6 883.3,916.5 884.3,916.3 885.3,911.4 886.3,903.1 887.3,892.5 888.3,880.9 889.3,869.7 890.3,860.0 891.3,853.2 892.3,850.4 893.3,852.4 894.3,858.1 895.3,866.2 896.3,875.8 897.3,885.5 898.3,894.2 899.3,900.8 900.3,904.1 901.3,902.6 902.3,896.3 903.3,886.5 904.3,875.1 905.3,863.6 906.3,853.9 907.3,847.5 908.3,846.0 909.3,849.0 910.3,855.0 911.3,862.8 912.3,871.4 913.3,879.4 914.3,885.7 915.3,889.3 916.3,889.2 917.3,886.5 918.3,882.1 919.3,876.8 920.3,871.3 921.3,866.4 922.3,862.9 923.3,861.4 924.3,862.6 925.3,866.3 926.3,871.5 927.3,877.2 928.3,882.4 929.3,886.3 930.3,887.8 931.3,886.3 932.3,882.4 933.3,876.7 934.3,870.0 935.3,863.3 936.3,857.1 937.3,852.3 938.3,849.7 939.3,850.0 940.3,853.0 941.3,857.8 942.3,863.6 943.3,869.6 944.3,875.0 945.3,878.9 946.3,880.5 947.3,879.4 948.3,876.1 949.3,871.7 950.3,866.9 951.3,862.5 952.3,859.5 953.3,858.6 954.3,859.6 955.3,861.6 956.3,864.1 957.3,866.5 958.3,868.5 959.3,869.5 960.3,869.1 961.3,867.3 962.3,864.8 963.3,862.0 964.3,859.4 965.3,857.5 966.3,856.8 967.3,857.3 968.3,858.7 969.3,860.5 970.3,862.5 971.3,864.2 972.3,865.5 973.3,865.9 974.3,864.0 975.3,859.7 976.3,853.9 977.3,847.3 978.3,841.0 979.3,835.6 980.3,832.1 981.3,831.3 982.3,832.1 983.3,833.6 984.3,835.6 985.3,837.6 986.3,839.2 987.3,840.2 988.3,840.3 989.3,839.9 990.3,839.2 991.3,838.3 992.3,837.0 993.3,835.6 994.3,834.1 995.3,832.4 996.3,830.7 997.3,827.7 998.3,823.6 999.3,818.6 1000.3,813.4 1001.3,808.2 1002.3,803.5 1003.3,799.7 1004.3,797.3 1005.3,796.6 1006.3,798.5 1007.3,802.2 1008.3,806.8 1009.3,810.9 1010.3,813.6 1011.3,814.4 1012.3,814.9 1013.3,815.4 1014.3,815.7 1015.3,815.7 1016.3,815.7 1017.3,815.6 1018.3,815.4 1019.3,815.2 1020.3,814.9 1021.3,814.0 1022.3,810.9 1023.3,806.3 1024.3,801.0 1025.3,795.7 1026.3,791.4 1027.3,788.7 1028.3,786.6 1029.3,784.5 1030.3,782.5 1031.3,780.7 1032.3,778.9 1033.3,777.3 1034.3,775.9 1035.3,774.7 1036.3,773.6 1037.3,772.8 1038.3,772.3 1039.3,772.0 1040.3,772.0 1041.3,772.1 1042.3,772.4 1043.3,772.8 1044.3,773.3 1045.3,773.8 1046.3,774.3 1047.3,774.7 1048.0,775.0 1048.0,845.5 1047.3,845.3 1046.3,844.9 1045.3,844.5 1044.3,844.1 1043.3,843.8 1042.3,843.5 1041.3,843.2 1040.3,843.1 1039.3,843.2 1038.3,843.8 1037.3,844.9 1036.3,846.4 1035.3,848.0 1034.3,849.5 1033.3,851.4 1032.3,854.0 1031.3,856.9 1030.3,859.9 1029.3,862.8 1028.3,865.2 1027.3,866.9 1026.3,867.7 1025.3,867.6 1024.3,867.1 1023.3,866.5 1022.3,866.0 1021.3,865.9 1020.3,866.7 1019.3,868.2 1018.3,870.1 1017.3,872.0 1016.3,873.4 1015.3,874.1 1014.3,873.8 1013.3,872.8 1012.3,871.4 1011.3,869.9 1010.3,868.7 1009.3,867.9 1008.3,868.0 1007.3,869.7 1006.3,872.6 1005.3,876.3 1004.3,880.2 1003.3,883.8 1002.3,886.6 1001.3,888.0 1000.3,888.8 999.3,889.5 998.3,890.1 997.3,890.7 996.3,891.1 995.3,891.4 994.3,891.5 993.3,891.5 992.3,891.5 991.3,891.5 990.3,891.5 989.3,891.5 988.3,891.5 987.3,891.4 986.3,890.7 985.3,889.5 984.3,888.1 983.3,886.7 982.3,885.7 981.3,885.1 980.3,885.6 979.3,887.6 978.3,890.7 977.3,894.4 976.3,898.2 975.3,901.6 974.3,904.1 973.3,905.1 972.3,904.7 971.3,903.3 970.3,901.4 969.3,899.2 968.3,897.2 967.3,895.7 966.3,895.1 965.3,895.7 964.3,897.1 963.3,899.2 962.3,901.4 961.3,903.4 960.3,904.8 959.3,905.1 958.3,904.6 957.3,903.4 956.3,901.9 955.3,900.5 954.3,899.3 953.3,898.8 952.3,899.6 951.3,902.5 950.3,906.7 949.3,911.3 948.3,915.6 947.3,918.7 946.3,919.7 945.3,918.4 944.3,915.3 943.3,911.1 942.3,906.3 941.3,901.7 940.3,897.9 939.3,895.5 938.3,895.3 937.3,897.2 936.3,900.7 935.3,905.3 934.3,910.3 933.3,915.2 932.3,919.4 931.3,922.3 930.3,923.4 929.3,922.4 928.3,919.7 927.3,916.1 926.3,912.2 925.3,908.6 924.3,906.0 923.3,905.2 922.3,906.7 921.3,910.2 920.3,915.1 919.3,920.6 918.3,925.9 917.3,930.3 916.3,933.0 915.3,933.3 914.3,931.6 913.3,928.7 912.3,925.1 911.3,921.1 910.3,917.5 909.3,914.8 908.3,913.4 907.3,914.3 906.3,918.0 905.3,923.7 904.3,930.3 903.3,936.9 902.3,942.5 901.3,946.2 900.3,947.0 899.3,945.0 898.3,940.8 897.3,935.4 896.3,929.3 895.3,923.3 894.3,918.2 893.3,914.6 892.3,913.4 891.3,915.5 890.3,921.0 889.3,928.7 888.3,937.6 887.3,946.8 886.3,955.2 885.3,961.9 884.3,965.7 883.3,965.8 882.3,962.1 881.3,955.6 880.3,947.3 879.3,938.1 878.3,929.1 877.3,921.3 876.3,915.8 875.3,913.4 874.3,915.0 873.3,919.9 872.3,927.2 871.3,935.7 870.3,944.4 869.3,952.4 868.3,958.4 867.3,961.5 866.3,960.7 865.3,956.1 864.3,948.9 863.3,940.1 862.3,931.0 861.3,922.6 860.3,916.1 859.3,912.7 858.3,913.4 857.3,917.9 856.3,925.3 855.3,934.7 854.3,945.1 853.3,955.6 852.3,965.3 851.3,973.1 850.3,978.2 849.3,979.6 848.3,976.3 847.3,968.9 846.3,958.7 845.3,947.1 844.3,935.2 843.3,924.2 842.3,915.5 841.3,910.3 840.3,909.9 839.3,914.7 838.3,923.7 837.3,935.5 836.3,948.8 835.3,962.4 834.3,974.8 833.3,984.7 832.3,991.0 831.3,992.3 830.3,988.8 829.3,981.8 828.3,972.2 827.3,961.0 826.3,949.3 825.3,938.1 824.3,928.3 823.3,920.9 822.3,917.1 821.3,917.7 820.3,923.3 819.3,932.7 818.3,945.1 817.3,959.3 816.3,974.5 815.3,989.5 814.3,1003.3 813.3,1015.0 812.3,1023.5 811.3,1027.7 810.3,1027.1 809.3,1022.5 808.3,1014.8 807.3,1004.8 806.3,993.3 805.3,980.9 804.3,968.6 803.3,957.1 802.3,947.1 801.3,939.5 800.3,934.9 799.3,934.2 798.3,936.5 797.3,941.2 796.3,947.9 795.3,956.0 794.3,965.4 793.3,975.4 792.3,985.7 791.3,996.0 790.3,1005.8 789.3,1014.6 788.3,1022.1 787.3,1027.9 786.3,1031.5 785.3,1032.6 784.3,1030.8 783.3,1026.4 782.3,1019.9 781.3,1011.8 780.3,1002.4 779.3,992.3 778.3,981.8 777.3,971.5 776.3,961.7 775.3,952.9 774.3,945.6 773.3,940.3 772.3,937.3 771.3,937.0 770.3,938.7 769.3,942.0 768.3,946.8 767.3,952.8 766.3,959.7 765.3,967.5 764.3,975.7 763.3,984.3 762.3,993.1 761.3,1001.7 760.3,1010.0 759.3,1017.7 758.3,1024.7 757.3,1030.7 756.3,1035.5 755.3,1038.9 754.3,1040.6 753.3,1040.3 752.3,1036.7 751.3,1030.2 750.3,1021.5 749.3,1011.0 748.3,999.2 747.3,986.8 746.3,974.3 745.3,962.2 744.3,951.1 743.3,941.6 742.3,934.1 741.3,929.3 740.3,927.7 739.3,929.4 738.3,933.8 737.3,940.6 736.3,949.1 735.3,958.9 734.3,969.6 733.3,980.6 732.3,991.4 731.3,1001.5 730.3,1010.5 729.3,1017.9 728.3,1023.1 727.3,1026.3 726.3,1029.0 725.3,1031.2 724.3,1032.9 723.3,1033.9 722.3,1034.5 721.3,1035.0 720.3,1035.5 719.3,1035.8 718.3,1036.2 717.3,1036.4 716.3,1036.6 715.3,1036.7 714.3,1036.8 713.3,1036.6 712.3,1036.2 711.3,1035.5 710.3,1034.7 709.3,1033.9 708.3,1033.1 707.3,1032.4 706.3,1031.9 705.3,1031.7 704.3,1031.7 703.3,1032.0 702.3,1032.4 701.3,1032.9 700.3,1033.4 699.3,1034.1 698.3,1034.7 697.3,1035.3 696.3,1035.9 695.3,1036.4 694.3,1036.8 693.3,1037.1 692.3,1037.2 691.3,1037.1 690.3,1037.0 689.3,1036.9 688.3,1036.7 687.3,1036.5 686.3,1036.2 685.3,1035.9 684.3,1035.6 683.3,1035.3 682.3,1035.0 681.3,1034.7 680.3,1034.4 679.3,1034.1 678.3,1033.9Z" fill="#f7c1b3" stroke="none"/>
<path d="M678.3,1024.7 679.3,1025.0 680.3,1025.3 681.3,1025.6 682.3,1025.9 683.3,1026.2 684.3,1026.5 685.3,1026.8 686.3,1027.1 687.3,1027.3 688.3,1027.6 689.3,1027.8 690.3,1027.9 691.3,1028.0 692.3,1028.0 693.3,1027.9 694.3,1027.7 695.3,1027.3 696.3,1026.8 697.3,1026.2 698.3,1025.6 699.3,1024.9 700.3,1024.3 701.3,1023.7 702.3,1023.2 703.3,1022.9 704.3,1022.6 705.3,1022.6 706.3,1022.8 707.3,1023.3 708.3,1024.1 709.3,1024.9 710.3,1025.8 711.3,1026.7 712.3,1027.4 713.3,1027.9 714.3,1028.0 715.3,1027.9 716.3,1027.5 717.3,1027.0 718.3,1026.3 719.3,1025.4 720.3,1024.4 721.3,1023.3 722.3,1022.1 723.3,1020.8 724.3,1019.3 725.3,1017.4 726.3,1014.9 727.3,1011.9 728.3,1008.2 729.3,1001.5 730.3,991.8 731.3,979.7 732.3,965.9 733.3,951.2 734.3,936.2 735.3,921.5 736.3,908.0 737.3,896.2 738.3,886.9 739.3,880.7 740.3,878.4 741.3,880.5 742.3,886.6 743.3,896.1 744.3,908.3 745.3,922.4 746.3,937.8 747.3,953.7 748.3,969.6 749.3,984.5 750.3,997.9 751.3,1009.1 752.3,1017.3 753.3,1021.9 754.3,1022.3 755.3,1020.4 756.3,1016.5 757.3,1011.1 758.3,1004.3 759.3,996.4 760.3,987.6 761.3,978.3 762.3,968.5 763.3,958.7 764.3,948.9 765.3,939.6 766.3,930.8 767.3,922.9 768.3,916.2 769.3,910.8 770.3,907.0 771.3,905.1 772.3,905.4 773.3,909.0 774.3,915.3 775.3,923.9 776.3,934.3 777.3,945.8 778.3,958.0 779.3,970.4 780.3,982.4 781.3,993.4 782.3,1003.1 783.3,1010.7 784.3,1015.9 785.3,1018.0 786.3,1016.4 787.3,1011.1 788.3,1002.6 789.3,991.7 790.3,978.7 791.3,964.5 792.3,949.5 793.3,934.3 794.3,919.6 795.3,906.0 796.3,894.0 797.3,884.3 798.3,877.5 799.3,874.1 800.3,875.1 801.3,881.2 802.3,891.7 803.3,905.4 804.3,921.2 805.3,938.0 806.3,954.9 807.3,970.7 808.3,984.4 809.3,994.9 810.3,1001.2 811.3,1002.1 812.3,997.1 813.3,987.0 814.3,973.1 815.3,956.7 816.3,938.8 817.3,920.8 818.3,903.9 819.3,889.2 820.3,878.0 821.3,871.4 822.3,870.6 823.3,875.4 824.3,884.5 825.3,896.7 826.3,910.6 827.3,925.2 828.3,939.0 829.3,950.9 830.3,959.6 831.3,963.9 832.3,962.4 833.3,954.7 834.3,942.4 835.3,927.1 836.3,910.5 837.3,894.1 838.3,879.6 839.3,868.5 840.3,862.6 841.3,863.1 842.3,869.3 843.3,879.7 844.3,892.7 845.3,907.0 846.3,920.9 847.3,933.0 848.3,941.8 849.3,945.8 850.3,943.8 851.3,936.5 852.3,925.3 853.3,911.4 854.3,896.4 855.3,881.4 856.3,867.9 857.3,857.3 858.3,850.8 859.3,849.9 860.3,855.2 861.3,865.3 862.3,878.3 863.3,892.5 864.3,906.1 865.3,917.4 866.3,924.5 867.3,925.9 868.3,921.6 869.3,913.4 870.3,902.7 871.3,890.8 872.3,879.2 873.3,869.3 874.3,862.6 875.3,860.5 876.3,863.0 877.3,869.0 878.3,877.3 879.3,886.9 880.3,896.7 881.3,905.6 882.3,912.6 883.3,916.5 884.3,916.3 885.3,911.4 886.3,903.1 887.3,892.5 888.3,880.9 889.3,869.7 890.3,860.0 891.3,853.2 892.3,850.4 893.3,852.4 894.3,858.1 895.3,866.2 896.3,875.8 897.3,885.5 898.3,894.2 899.3,900.8 900.3,904.1 901.3,902.6 902.3,896.3 903.3,886.5 904.3,875.1 905.3,863.6 906.3,853.9 907.3,847.5 908.3,846.0 909.3,849.0 910.3,855.0 911.3,862.8 912.3,871.4 913.3,879.4 914.3,885.7 915.3,889.3 916.3,889.2 917.3,886.5 918.3,882.1 919.3,876.8 920.3,871.3 921.3,866.4 922.3,862.9 923.3,861.4 924.3,862.6 925.3,866.3 926.3,871.5 927.3,877.2 928.3,882.4 929.3,886.3 930.3,887.8 931.3,886.3 932.3,882.4 933.3,876.7 934.3,870.0 935.3,863.3 936.3,857.1 937.3,852.3 938.3,849.7 939.3,850.0 940.3,853.0 941.3,857.8 942.3,863.6 943.3,869.6 944.3,875.0 945.3,878.9 946.3,880.5 947.3,879.4 948.3,876.1 949.3,871.7 950.3,866.9 951.3,862.5 952.3,859.5 953.3,858.6 954.3,859.6 955.3,861.6 956.3,864.1 957.3,866.5 958.3,868.5 959.3,869.5 960.3,869.1 961.3,867.3 962.3,864.8 963.3,862.0 964.3,859.4 965.3,857.5 966.3,856.8 967.3,857.3 968.3,858.7 969.3,860.5 970.3,862.5 971.3,864.2 972.3,865.5 973.3,865.9 974.3,864.0 975.3,859.7 976.3,853.9 977.3,847.3 978.3,841.0 979.3,835.6 980.3,832.1 981.3,831.3 982.3,832.1 983.3,833.6 984.3,835.6 985.3,837.6 986.3,839.2 987.3,840.2 988.3,840.3 989.3,839.9 990.3,839.2 991.3,838.3 992.3,837.0 993.3,835.6 994.3,834.1 995.3,832.4 996.3,830.7 997.3,827.7 998.3,823.6 999.3,818.6 1000.3,813.4 1001.3,808.2 1002.3,803.5 1003.3,799.7 1004.3,797.3 1005.3,796.6 1006.3,798.5 1007.3,802.2 1008.3,806.8 1009.3,810.9 1010.3,813.6 1011.3,814.4 1012.3,814.9 1013.3,815.4 1014.3,815.7 1015.3,815.7 1016.3,815.7 1017.3,815.6 1018.3,815.4 1019.3,815.2 1020.3,814.9 1021.3,814.0 1022.3,810.9 1023.3,806.3 1024.3,801.0 1025.3,795.7 1026.3,791.4 1027.3,788.7 1028.3,786.6 1029.3,784.5 1030.3,782.5 1031.3,780.7 1032.3,778.9 1033.3,777.3 1034.3,775.9 1035.3,774.7 1036.3,773.6 1037.3,772.8 1038.3,772.3 1039.3,772.0 1040.3,772.0 1041.3,772.1 1042.3,772.4 1043.3,772.8 1044.3,773.3 1045.3,773.8 1046.3,774.3 1047.3,774.7 1048.0,775.0" fill="none" stroke="#ec3b37" stroke-width="2.3" stroke-linejoin="round"/>
<path d="M678.3,1029.5 679.3,1029.7 680.3,1029.9 681.3,1030.1 682.3,1030.4 683.3,1030.6 684.3,1030.8 685.3,1031.1 686.3,1031.3 687.3,1031.5 688.3,1031.7 689.3,1031.8 690.3,1031.9 691.3,1032.0 692.3,1032.0 693.3,1032.0 694.3,1031.7 695.3,1031.4 696.3,1030.9 697.3,1030.4 698.3,1029.8 699.3,1029.3 700.3,1028.7 701.3,1028.2 702.3,1027.7 703.3,1027.4 704.3,1027.2 705.3,1027.1 706.3,1027.3 707.3,1027.8 708.3,1028.4 709.3,1029.1 710.3,1029.9 711.3,1030.6 712.3,1031.1 713.3,1031.5 714.3,1031.7 715.3,1031.6 716.3,1031.4 717.3,1031.1 718.3,1030.7 719.3,1030.1 720.3,1029.5 721.3,1028.8 722.3,1028.0 723.3,1027.2 724.3,1026.0 725.3,1024.2 726.3,1021.9 727.3,1019.1 728.3,1015.7 729.3,1009.8 730.3,1001.3 731.3,990.8 732.3,979.0 733.3,966.3 734.3,953.4 735.3,940.9 736.3,929.3 737.3,919.2 738.3,911.2 739.3,905.9 740.3,903.9 741.3,905.8 742.3,911.2 743.3,919.6 744.3,930.4 745.3,942.9 746.3,956.6 747.3,970.7 748.3,984.7 749.3,998.0 750.3,1009.9 751.3,1019.8 752.3,1027.0 753.3,1031.1 754.3,1031.5 755.3,1029.6 756.3,1026.1 757.3,1021.0 758.3,1014.7 759.3,1007.4 760.3,999.2 761.3,990.5 762.3,981.4 763.3,972.2 764.3,963.2 765.3,954.5 766.3,946.3 767.3,939.0 768.3,932.7 769.3,927.7 770.3,924.2 771.3,922.4 772.3,922.7 773.3,925.9 774.3,931.7 775.3,939.6 776.3,949.0 777.3,959.5 778.3,970.6 779.3,981.9 780.3,992.8 781.3,1002.9 782.3,1011.7 783.3,1018.7 784.3,1023.3 785.3,1025.3 786.3,1024.0 787.3,1019.6 788.3,1012.6 789.3,1003.5 790.3,992.7 791.3,980.9 792.3,968.5 793.3,955.9 794.3,943.7 795.3,932.4 796.3,922.5 797.3,914.5 798.3,908.8 799.3,906.0 800.3,906.8 801.3,912.1 802.3,921.0 803.3,932.6 804.3,946.0 805.3,960.4 806.3,974.8 807.3,988.2 808.3,999.9 809.3,1008.8 810.3,1014.2 811.3,1014.9 812.3,1010.2 813.3,1000.9 814.3,988.1 815.3,972.9 816.3,956.4 817.3,939.8 818.3,924.1 819.3,910.6 820.3,900.2 821.3,894.1 822.3,893.4 823.3,897.8 824.3,906.1 825.3,917.2 826.3,929.9 827.3,943.2 828.3,955.8 829.3,966.7 830.3,974.6 831.3,978.5 832.3,977.2 833.3,970.4 834.3,959.5 835.3,946.0 836.3,931.3 837.3,916.8 838.3,904.0 839.3,894.2 840.3,889.0 841.3,889.4 842.3,894.9 843.3,904.0 844.3,915.5 845.3,928.1 846.3,940.3 847.3,951.0 848.3,958.7 849.3,962.3 850.3,960.6 851.3,954.7 852.3,945.6 853.3,934.4 854.3,922.2 855.3,910.0 856.3,899.1 857.3,890.5 858.3,885.2 859.3,884.5 860.3,888.7 861.3,896.6 862.3,906.8 863.3,918.0 864.3,928.7 865.3,937.5 866.3,943.1 867.3,944.1 868.3,940.5 869.3,933.4 870.3,924.2 871.3,913.9 872.3,904.0 873.3,895.5 874.3,889.7 875.3,887.8 876.3,890.3 877.3,896.1 878.3,904.1 879.3,913.4 880.3,922.9 881.3,931.5 882.3,938.3 883.3,942.1 884.3,941.9 885.3,937.5 886.3,930.0 887.3,920.4 888.3,909.9 889.3,899.8 890.3,891.0 891.3,884.8 892.3,882.3 893.3,884.0 894.3,888.6 895.3,895.2 896.3,903.0 897.3,910.9 898.3,918.0 899.3,923.3 900.3,926.0 901.3,924.9 902.3,919.9 903.3,912.3 904.3,903.4 905.3,894.4 906.3,886.8 907.3,881.8 908.3,880.6 909.3,882.7 910.3,887.0 911.3,892.5 912.3,898.6 913.3,904.3 914.3,908.8 915.3,911.3 916.3,911.1 917.3,908.5 918.3,904.3 919.3,899.1 920.3,893.8 921.3,889.1 922.3,885.6 923.3,884.2 924.3,885.2 925.3,888.1 926.3,892.2 927.3,896.7 928.3,900.9 929.3,903.9 930.3,905.1 931.3,903.9 932.3,900.6 933.3,895.9 934.3,890.3 935.3,884.7 936.3,879.6 937.3,875.6 938.3,873.4 939.3,873.7 940.3,876.3 941.3,880.5 942.3,885.6 943.3,890.9 944.3,895.7 945.3,899.1 946.3,900.6 947.3,899.4 948.3,896.2 949.3,891.8 950.3,886.9 951.3,882.6 952.3,879.6 953.3,878.7 954.3,879.5 955.3,881.2 956.3,883.2 957.3,885.3 958.3,887.0 959.3,887.8 960.3,887.4 961.3,885.7 962.3,883.4 963.3,880.8 964.3,878.4 965.3,876.6 966.3,876.0 967.3,876.6 968.3,878.1 969.3,880.1 970.3,882.2 971.3,884.2 972.3,885.5 973.3,886.0 974.3,884.5 975.3,881.1 976.3,876.5 977.3,871.3 978.3,866.3 979.3,862.0 980.3,859.3 981.3,858.6 982.3,859.3 983.3,860.5 984.3,862.1 985.3,863.7 986.3,865.0 987.3,865.8 988.3,865.9 989.3,865.7 990.3,865.3 991.3,864.7 992.3,864.0 993.3,863.1 994.3,862.2 995.3,861.2 996.3,860.0 997.3,857.9 998.3,854.7 999.3,850.8 1000.3,846.6 1001.3,842.5 1002.3,838.7 1003.3,835.6 1004.3,833.6 1005.3,833.1 1006.3,833.5 1007.3,834.5 1008.3,835.9 1009.3,837.5 1010.3,839.3 1011.3,841.0 1012.3,842.6 1013.3,843.9 1014.3,844.7 1015.3,844.9 1016.3,844.6 1017.3,843.9 1018.3,842.8 1019.3,841.5 1020.3,840.0 1021.3,838.4 1022.3,836.7 1023.3,835.0 1024.3,833.2 1025.3,830.8 1026.3,828.2 1027.3,825.4 1028.3,822.5 1029.3,819.7 1030.3,817.1 1031.3,814.9 1032.3,813.3 1033.3,812.0 1034.3,810.7 1035.3,809.5 1036.3,808.5 1037.3,807.6 1038.3,807.0 1039.3,806.7 1040.3,806.6 1041.3,806.8 1042.3,807.1 1043.3,807.5 1044.3,808.0 1045.3,808.5 1046.3,809.0 1047.3,809.4 1048.0,809.7" fill="none" stroke="#ec3b37" stroke-width="2.3" stroke-linejoin="round"/>
<path d="M678.3,1033.9 679.3,1034.1 680.3,1034.4 681.3,1034.7 682.3,1035.0 683.3,1035.3 684.3,1035.6 685.3,1035.9 686.3,1036.2 687.3,1036.5 688.3,1036.7 689.3,1036.9 690.3,1037.0 691.3,1037.1 692.3,1037.2 693.3,1037.1 694.3,1036.8 695.3,1036.4 696.3,1035.9 697.3,1035.3 698.3,1034.7 699.3,1034.1 700.3,1033.4 701.3,1032.9 702.3,1032.4 703.3,1032.0 704.3,1031.7 705.3,1031.7 706.3,1031.9 707.3,1032.4 708.3,1033.1 709.3,1033.9 710.3,1034.7 711.3,1035.5 712.3,1036.2 713.3,1036.6 714.3,1036.8 715.3,1036.7 716.3,1036.6 717.3,1036.4 718.3,1036.2 719.3,1035.8 720.3,1035.5 721.3,1035.0 722.3,1034.5 723.3,1033.9 724.3,1032.9 725.3,1031.2 726.3,1029.0 727.3,1026.3 728.3,1023.1 729.3,1017.9 730.3,1010.5 731.3,1001.5 732.3,991.4 733.3,980.6 734.3,969.6 735.3,958.9 736.3,949.1 737.3,940.6 738.3,933.8 739.3,929.4 740.3,927.7 741.3,929.3 742.3,934.1 743.3,941.6 744.3,951.1 745.3,962.2 746.3,974.3 747.3,986.8 748.3,999.2 749.3,1011.0 750.3,1021.5 751.3,1030.2 752.3,1036.7 753.3,1040.3 754.3,1040.6 755.3,1038.9 756.3,1035.5 757.3,1030.7 758.3,1024.7 759.3,1017.7 760.3,1010.0 761.3,1001.7 762.3,993.1 763.3,984.3 764.3,975.7 765.3,967.5 766.3,959.7 767.3,952.8 768.3,946.8 769.3,942.0 770.3,938.7 771.3,937.0 772.3,937.3 773.3,940.3 774.3,945.6 775.3,952.9 776.3,961.7 777.3,971.5 778.3,981.8 779.3,992.3 780.3,1002.4 781.3,1011.8 782.3,1019.9 783.3,1026.4 784.3,1030.8 785.3,1032.6 786.3,1031.5 787.3,1027.9 788.3,1022.1 789.3,1014.6 790.3,1005.8 791.3,996.0 792.3,985.7 793.3,975.4 794.3,965.4 795.3,956.0 796.3,947.9 797.3,941.2 798.3,936.5 799.3,934.2 800.3,934.9 801.3,939.5 802.3,947.1 803.3,957.1 804.3,968.6 805.3,980.9 806.3,993.3 807.3,1004.8 808.3,1014.8 809.3,1022.5 810.3,1027.1 811.3,1027.7 812.3,1023.5 813.3,1015.0 814.3,1003.3 815.3,989.5 816.3,974.5 817.3,959.3 818.3,945.1 819.3,932.7 820.3,923.3 821.3,917.7 822.3,917.1 823.3,920.9 824.3,928.3 825.3,938.1 826.3,949.3 827.3,961.0 828.3,972.2 829.3,981.8 830.3,988.8 831.3,992.3 832.3,991.0 833.3,984.7 834.3,974.8 835.3,962.4 836.3,948.8 837.3,935.5 838.3,923.7 839.3,914.7 840.3,909.9 841.3,910.3 842.3,915.5 843.3,924.2 844.3,935.2 845.3,947.1 846.3,958.7 847.3,968.9 848.3,976.3 849.3,979.6 850.3,978.2 851.3,973.1 852.3,965.3 853.3,955.6 854.3,945.1 855.3,934.7 856.3,925.3 857.3,917.9 858.3,913.4 859.3,912.7 860.3,916.1 861.3,922.6 862.3,931.0 863.3,940.1 864.3,948.9 865.3,956.1 866.3,960.7 867.3,961.5 868.3,958.4 869.3,952.4 870.3,944.4 871.3,935.7 872.3,927.2 873.3,919.9 874.3,915.0 875.3,913.4 876.3,915.8 877.3,921.3 878.3,929.1 879.3,938.1 880.3,947.3 881.3,955.6 882.3,962.1 883.3,965.8 884.3,965.7 885.3,961.9 886.3,955.2 887.3,946.8 888.3,937.6 889.3,928.7 890.3,921.0 891.3,915.5 892.3,913.4 893.3,914.6 894.3,918.2 895.3,923.3 896.3,929.3 897.3,935.4 898.3,940.8 899.3,945.0 900.3,947.0 901.3,946.2 902.3,942.5 903.3,936.9 904.3,930.3 905.3,923.7 906.3,918.0 907.3,914.3 908.3,913.4 909.3,914.8 910.3,917.5 911.3,921.1 912.3,925.1 913.3,928.7 914.3,931.6 915.3,933.3 916.3,933.0 917.3,930.3 918.3,925.9 919.3,920.6 920.3,915.1 921.3,910.2 922.3,906.7 923.3,905.2 924.3,906.0 925.3,908.6 926.3,912.2 927.3,916.1 928.3,919.7 929.3,922.4 930.3,923.4 931.3,922.3 932.3,919.4 933.3,915.2 934.3,910.3 935.3,905.3 936.3,900.7 937.3,897.2 938.3,895.3 939.3,895.5 940.3,897.9 941.3,901.7 942.3,906.3 943.3,911.1 944.3,915.3 945.3,918.4 946.3,919.7 947.3,918.7 948.3,915.6 949.3,911.3 950.3,906.7 951.3,902.5 952.3,899.6 953.3,898.8 954.3,899.3 955.3,900.5 956.3,901.9 957.3,903.4 958.3,904.6 959.3,905.1 960.3,904.8 961.3,903.4 962.3,901.4 963.3,899.2 964.3,897.1 965.3,895.7 966.3,895.1 967.3,895.7 968.3,897.2 969.3,899.2 970.3,901.4 971.3,903.3 972.3,904.7 973.3,905.1 974.3,904.1 975.3,901.6 976.3,898.2 977.3,894.4 978.3,890.7 979.3,887.6 980.3,885.6 981.3,885.1 982.3,885.7 983.3,886.7 984.3,888.1 985.3,889.5 986.3,890.7 987.3,891.4 988.3,891.5 989.3,891.5 990.3,891.5 991.3,891.5 992.3,891.5 993.3,891.5 994.3,891.5 995.3,891.4 996.3,891.1 997.3,890.7 998.3,890.1 999.3,889.5 1000.3,888.8 1001.3,888.0 1002.3,886.6 1003.3,883.8 1004.3,880.2 1005.3,876.3 1006.3,872.6 1007.3,869.7 1008.3,868.0 1009.3,867.9 1010.3,868.7 1011.3,869.9 1012.3,871.4 1013.3,872.8 1014.3,873.8 1015.3,874.1 1016.3,873.4 1017.3,872.0 1018.3,870.1 1019.3,868.2 1020.3,866.7 1021.3,865.9 1022.3,866.0 1023.3,866.5 1024.3,867.1 1025.3,867.6 1026.3,867.7 1027.3,866.9 1028.3,865.2 1029.3,862.8 1030.3,859.9 1031.3,856.9 1032.3,854.0 1033.3,851.4 1034.3,849.5 1035.3,848.0 1036.3,846.4 1037.3,844.9 1038.3,843.8 1039.3,843.2 1040.3,843.1 1041.3,843.2 1042.3,843.5 1043.3,843.8 1044.3,844.1 1045.3,844.5 1046.3,844.9 1047.3,845.3 1048.0,845.5" fill="none" stroke="#ec3b37" stroke-width="2.3" stroke-linejoin="round"/></g>
<rect x="679.0" y="691.1" width="368.7" height="355.9" fill="none" stroke="#1a1a1a" stroke-width="2.4"/>
<line x1="679.0" y1="928.4" x2="690.5" y2="928.4" stroke="#1a1a1a" stroke-width="2.2"/>
<line x1="679.0" y1="809.7" x2="690.5" y2="809.7" stroke="#1a1a1a" stroke-width="2.2"/>
<line x1="862.4" y1="1047.0" x2="862.4" y2="1035.5" stroke="#1a1a1a" stroke-width="2.2"/>
<text class="t" text-anchor="end" x="666.8" y="1052.9">0</text>
<text class="t" text-anchor="end" x="666.8" y="935.5">1</text>
<text class="t" text-anchor="end" x="666.8" y="818.2">2</text>
<text class="t" text-anchor="end" x="666.8" y="700.8">3</text>
<text class="t" text-anchor="middle" x="679.9" y="1078.3">0</text>
<text class="t" text-anchor="middle" x="862.9" y="1078.3">2</text>
<text class="t" text-anchor="middle" x="1045.5" y="1078.3">4</text>
<text class="t" x="785.1" y="1118.4" textLength="155" lengthAdjust="spacing">Position (µm)</text>
<text class="t" transform="translate(626.4 866.2) rotate(-90)" x="-143.5" y="0" textLength="286.5" lengthAdjust="spacing">Intensity (arbitrary units)</text>
<clipPath id="cpg"><rect x="1203.6" y="691.1" width="368.7" height="355.9"/></clipPath>
<g clip-path="url(#cpg)"><path d="M1202.7,1020.7 1203.7,1020.7 1204.7,1020.6 1205.7,1020.6 1206.7,1020.5 1207.7,1020.5 1208.7,1020.4 1209.7,1020.4 1210.7,1020.3 1211.7,1020.3 1212.7,1020.2 1213.7,1020.2 1214.7,1020.1 1215.7,1020.1 1216.7,1020.0 1217.7,1020.0 1218.7,1019.9 1219.7,1019.8 1220.7,1019.8 1221.7,1019.7 1222.7,1019.7 1223.7,1019.6 1224.7,1019.6 1225.7,1019.6 1226.7,1019.5 1227.7,1019.5 1228.7,1019.4 1229.7,1019.4 1230.7,1019.3 1231.7,1019.3 1232.7,1019.2 1233.7,1019.2 1234.7,1019.1 1235.7,1019.0 1236.7,1018.9 1237.7,1018.8 1238.7,1018.6 1239.7,1018.3 1240.7,1017.2 1241.7,1015.4 1242.7,1013.1 1243.7,1010.6 1244.7,1008.1 1245.7,1005.9 1246.7,1003.8 1247.7,1001.8 1248.7,999.8 1249.7,997.7 1250.7,995.5 1251.7,993.2 1252.7,990.7 1253.7,988.1 1254.7,985.2 1255.7,981.9 1256.7,978.3 1257.7,974.3 1258.7,969.8 1259.7,964.9 1260.7,958.9 1261.7,950.0 1262.7,940.1 1263.7,932.1 1264.7,928.6 1265.7,930.3 1266.7,935.3 1267.7,942.2 1268.7,950.0 1269.7,957.7 1270.7,964.0 1271.7,968.4 1272.7,972.7 1273.7,976.9 1274.7,980.6 1275.7,983.6 1276.7,985.5 1277.7,986.1 1278.7,985.9 1279.7,985.7 1280.7,985.3 1281.7,984.7 1282.7,984.0 1283.7,983.2 1284.7,982.2 1285.7,981.1 1286.7,979.9 1287.7,978.5 1288.7,975.7 1289.7,971.2 1290.7,965.8 1291.7,960.6 1292.7,955.8 1293.7,950.1 1294.7,944.4 1295.7,939.6 1296.7,937.0 1297.7,937.3 1298.7,940.0 1299.7,944.2 1300.7,949.3 1301.7,954.5 1302.7,959.2 1303.7,962.6 1304.7,964.7 1305.7,966.7 1306.7,968.6 1307.7,970.2 1308.7,971.6 1309.7,972.6 1310.7,973.2 1311.7,973.2 1312.7,972.0 1313.7,969.8 1314.7,966.8 1315.7,963.2 1316.7,959.2 1317.7,955.0 1318.7,950.9 1319.7,945.1 1320.7,937.5 1321.7,929.4 1322.7,921.9 1323.7,916.4 1324.7,914.0 1325.7,914.9 1326.7,917.8 1327.7,922.2 1328.7,927.7 1329.7,934.0 1330.7,940.5 1331.7,946.8 1332.7,952.6 1333.7,957.4 1334.7,960.7 1335.7,962.3 1336.7,961.5 1337.7,958.3 1338.7,953.2 1339.7,946.6 1340.7,939.0 1341.7,931.0 1342.7,923.0 1343.7,915.5 1344.7,909.0 1345.7,904.0 1346.7,901.0 1347.7,900.4 1348.7,902.6 1349.7,906.9 1350.7,912.7 1351.7,919.4 1352.7,926.3 1353.7,932.6 1354.7,937.9 1355.7,941.3 1356.7,942.2 1357.7,939.6 1358.7,933.8 1359.7,925.7 1360.7,916.1 1361.7,906.1 1362.7,896.4 1363.7,888.0 1364.7,881.8 1365.7,878.6 1366.7,879.1 1367.7,882.6 1368.7,888.3 1369.7,895.3 1370.7,903.0 1371.7,910.7 1372.7,917.4 1373.7,922.6 1374.7,925.5 1375.7,925.2 1376.7,921.2 1377.7,914.3 1378.7,905.6 1379.7,896.0 1380.7,886.4 1381.7,877.9 1382.7,871.5 1383.7,868.1 1384.7,868.3 1385.7,871.5 1386.7,876.7 1387.7,883.1 1388.7,889.9 1389.7,896.3 1390.7,901.4 1391.7,904.6 1392.7,904.9 1393.7,902.2 1394.7,897.4 1395.7,891.2 1396.7,884.4 1397.7,877.9 1398.7,872.4 1399.7,868.8 1400.7,867.8 1401.7,869.6 1402.7,873.4 1403.7,878.7 1404.7,884.8 1405.7,891.0 1406.7,896.7 1407.7,901.1 1408.7,903.8 1409.7,903.9 1410.7,900.5 1411.7,894.4 1412.7,886.7 1413.7,878.4 1414.7,870.5 1415.7,864.1 1416.7,860.2 1417.7,859.8 1418.7,862.4 1419.7,867.1 1420.7,873.1 1421.7,879.5 1422.7,885.5 1423.7,890.3 1424.7,893.0 1425.7,892.8 1426.7,889.5 1427.7,884.0 1428.7,877.2 1429.7,869.9 1430.7,863.0 1431.7,857.4 1432.7,853.9 1433.7,853.3 1434.7,855.9 1435.7,860.7 1436.7,866.7 1437.7,873.0 1438.7,878.7 1439.7,882.7 1440.7,884.2 1441.7,882.9 1442.7,879.7 1443.7,875.3 1444.7,870.3 1445.7,865.4 1446.7,861.2 1447.7,858.5 1448.7,857.7 1449.7,859.1 1450.7,861.9 1451.7,865.6 1452.7,869.7 1453.7,873.6 1454.7,876.7 1455.7,878.5 1456.7,878.2 1457.7,875.1 1458.7,869.8 1459.7,863.5 1460.7,857.0 1461.7,851.5 1462.7,847.7 1463.7,846.8 1464.7,848.8 1465.7,852.7 1466.7,857.7 1467.7,863.1 1468.7,868.1 1469.7,871.7 1470.7,873.2 1471.7,872.1 1472.7,868.9 1473.7,864.5 1474.7,859.5 1475.7,854.7 1476.7,850.8 1477.7,848.8 1478.7,849.0 1479.7,851.0 1480.7,854.2 1481.7,857.9 1482.7,861.5 1483.7,864.3 1484.7,865.8 1485.7,865.2 1486.7,862.3 1487.7,857.9 1488.7,852.9 1489.7,848.1 1490.7,844.6 1491.7,843.1 1492.7,844.2 1493.7,847.2 1494.7,851.2 1495.7,855.4 1496.7,859.0 1497.7,861.1 1498.7,860.7 1499.7,856.6 1500.7,850.1 1501.7,842.4 1502.7,834.7 1503.7,828.6 1504.7,825.2 1505.7,825.4 1506.7,828.1 1507.7,832.2 1508.7,836.6 1509.7,840.3 1510.7,842.1 1511.7,841.6 1512.7,839.6 1513.7,836.5 1514.7,833.0 1515.7,829.6 1516.7,826.8 1517.7,825.1 1518.7,825.0 1519.7,825.7 1520.7,826.8 1521.7,828.1 1522.7,829.0 1523.7,829.4 1524.7,827.6 1525.7,823.2 1526.7,817.3 1527.7,811.2 1528.7,806.1 1529.7,803.2 1530.7,803.3 1531.7,805.2 1532.7,808.0 1533.7,811.0 1534.7,813.5 1535.7,814.8 1536.7,814.3 1537.7,812.5 1538.7,809.9 1539.7,807.3 1540.7,805.1 1541.7,803.9 1542.7,804.1 1543.7,804.8 1544.7,805.7 1545.7,806.7 1546.7,807.4 1547.7,807.3 1548.7,804.4 1549.7,799.2 1550.7,793.1 1551.7,787.8 1552.7,784.9 1553.7,784.3 1554.7,784.0 1555.7,783.8 1556.7,783.7 1557.7,783.5 1558.7,783.1 1559.7,782.4 1560.7,780.0 1561.7,776.4 1562.7,772.6 1563.7,769.6 1564.7,768.3 1565.7,768.3 1566.7,768.5 1567.7,768.8 1568.7,769.1 1569.7,769.5 1570.7,769.9 1571.7,770.2 1572.7,770.6 1573.0,770.7 1573.0,811.5 1572.7,811.6 1571.7,811.9 1570.7,812.1 1569.7,812.3 1568.7,812.5 1567.7,812.8 1566.7,813.1 1565.7,813.5 1564.7,813.9 1563.7,815.0 1562.7,816.9 1561.7,819.2 1560.7,821.5 1559.7,823.4 1558.7,824.6 1557.7,825.6 1556.7,826.4 1555.7,827.2 1554.7,827.9 1553.7,828.7 1552.7,829.6 1551.7,830.6 1550.7,831.8 1549.7,832.9 1548.7,834.0 1547.7,834.7 1546.7,835.2 1545.7,835.5 1544.7,835.8 1543.7,836.0 1542.7,836.4 1541.7,836.9 1540.7,838.2 1539.7,840.3 1538.7,842.7 1537.7,844.8 1536.7,846.3 1535.7,846.7 1534.7,846.1 1533.7,845.0 1532.7,843.6 1531.7,842.3 1530.7,841.5 1529.7,841.5 1528.7,843.8 1527.7,847.8 1526.7,852.7 1525.7,857.3 1524.7,860.8 1523.7,862.3 1522.7,861.5 1521.7,859.5 1520.7,857.1 1519.7,854.8 1518.7,853.3 1517.7,853.4 1516.7,855.1 1515.7,857.9 1514.7,861.3 1513.7,864.8 1512.7,867.9 1511.7,869.9 1510.7,870.4 1509.7,869.0 1508.7,866.1 1507.7,862.6 1506.7,859.4 1505.7,857.2 1504.7,857.0 1503.7,859.7 1502.7,864.5 1501.7,870.4 1500.7,876.3 1499.7,881.4 1498.7,884.5 1497.7,884.9 1496.7,883.1 1495.7,880.0 1494.7,876.4 1493.7,873.0 1492.7,870.5 1491.7,869.6 1490.7,870.9 1489.7,874.2 1488.7,878.5 1487.7,883.2 1486.7,887.2 1485.7,889.9 1484.7,890.5 1483.7,889.1 1482.7,886.6 1481.7,883.4 1480.7,880.1 1479.7,877.2 1478.7,875.4 1477.7,875.2 1476.7,877.4 1475.7,881.3 1474.7,886.3 1473.7,891.5 1472.7,896.2 1471.7,899.4 1470.7,900.6 1469.7,899.2 1468.7,896.0 1467.7,891.5 1466.7,886.7 1465.7,882.2 1464.7,878.7 1463.7,876.9 1462.7,877.7 1461.7,881.0 1460.7,886.0 1459.7,891.7 1458.7,897.3 1457.7,901.9 1456.7,904.7 1455.7,904.9 1454.7,903.3 1453.7,900.5 1452.7,896.9 1451.7,893.2 1450.7,889.8 1449.7,887.2 1448.7,886.0 1447.7,886.8 1446.7,889.5 1445.7,893.7 1444.7,898.6 1443.7,903.6 1442.7,908.0 1441.7,911.2 1440.7,912.4 1439.7,911.4 1438.7,908.4 1437.7,904.3 1436.7,899.6 1435.7,895.2 1434.7,891.7 1433.7,889.8 1432.7,890.2 1431.7,893.0 1430.7,897.5 1429.7,903.0 1428.7,908.8 1427.7,914.2 1426.7,918.6 1425.7,921.2 1424.7,921.3 1423.7,919.4 1422.7,915.9 1421.7,911.5 1420.7,906.8 1419.7,902.4 1418.7,899.0 1417.7,897.1 1416.7,897.5 1415.7,900.8 1414.7,906.2 1413.7,912.7 1412.7,919.7 1411.7,926.1 1410.7,931.2 1409.7,934.0 1408.7,934.0 1407.7,931.8 1406.7,928.1 1405.7,923.4 1404.7,918.3 1403.7,913.3 1402.7,908.9 1401.7,905.7 1400.7,904.3 1399.7,905.1 1398.7,908.2 1397.7,912.9 1396.7,918.5 1395.7,924.3 1394.7,929.6 1393.7,933.7 1392.7,935.9 1391.7,935.8 1390.7,933.6 1389.7,930.1 1388.7,925.7 1387.7,921.1 1386.7,916.7 1385.7,913.2 1384.7,911.0 1383.7,910.8 1382.7,913.1 1381.7,917.3 1380.7,922.9 1379.7,929.1 1378.7,935.4 1377.7,941.1 1376.7,945.6 1375.7,948.2 1374.7,948.4 1373.7,946.0 1372.7,941.7 1371.7,936.1 1370.7,929.8 1369.7,923.4 1368.7,917.6 1367.7,912.9 1366.7,910.0 1365.7,909.6 1364.7,911.9 1363.7,916.5 1362.7,922.8 1361.7,930.0 1360.7,937.4 1359.7,944.5 1358.7,950.6 1357.7,954.9 1356.7,956.8 1355.7,956.2 1354.7,953.8 1353.7,950.2 1352.7,945.7 1351.7,941.0 1350.7,936.3 1349.7,932.3 1348.7,929.3 1347.7,927.8 1346.7,928.2 1345.7,930.6 1344.7,934.6 1343.7,939.7 1342.7,945.7 1341.7,952.0 1340.7,958.4 1339.7,964.4 1338.7,969.6 1337.7,973.7 1336.7,976.3 1335.7,976.9 1334.7,976.0 1333.7,973.9 1332.7,971.0 1331.7,967.6 1330.7,963.7 1329.7,959.8 1328.7,956.0 1327.7,952.7 1326.7,950.0 1325.7,948.3 1324.7,947.7 1323.7,948.8 1322.7,951.2 1321.7,954.6 1320.7,958.4 1319.7,962.3 1318.7,965.6 1317.7,968.7 1316.7,972.2 1315.7,975.9 1314.7,979.4 1313.7,982.4 1312.7,984.7 1311.7,985.9 1310.7,986.0 1309.7,985.3 1308.7,984.2 1307.7,982.8 1306.7,981.1 1305.7,979.2 1304.7,977.3 1303.7,975.5 1302.7,973.0 1301.7,969.8 1300.7,966.4 1299.7,963.3 1298.7,960.6 1297.7,959.0 1296.7,958.8 1295.7,960.5 1294.7,963.5 1293.7,967.3 1292.7,971.2 1291.7,974.8 1290.7,979.1 1289.7,983.6 1288.7,987.7 1287.7,990.4 1286.7,991.8 1285.7,993.2 1284.7,994.4 1283.7,995.5 1282.7,996.4 1281.7,997.2 1280.7,997.9 1279.7,998.4 1278.7,998.7 1277.7,998.8 1276.7,998.3 1275.7,996.5 1274.7,993.6 1273.7,990.1 1272.7,986.3 1271.7,982.6 1270.7,979.0 1269.7,974.4 1268.7,969.2 1267.7,963.9 1266.7,959.4 1265.7,956.2 1264.7,955.0 1263.7,957.1 1262.7,962.0 1261.7,968.1 1260.7,974.1 1259.7,978.6 1258.7,982.8 1257.7,986.9 1256.7,990.8 1255.7,994.3 1254.7,997.4 1253.7,1000.1 1252.7,1002.5 1251.7,1004.8 1250.7,1007.0 1249.7,1009.0 1248.7,1011.0 1247.7,1012.8 1246.7,1014.7 1245.7,1016.5 1244.7,1018.4 1243.7,1020.5 1242.7,1022.6 1241.7,1024.5 1240.7,1026.0 1239.7,1026.9 1238.7,1027.2 1237.7,1027.3 1236.7,1027.4 1235.7,1027.5 1234.7,1027.6 1233.7,1027.7 1232.7,1027.8 1231.7,1027.8 1230.7,1027.9 1229.7,1027.9 1228.7,1028.0 1227.7,1028.0 1226.7,1028.1 1225.7,1028.1 1224.7,1028.1 1223.7,1028.2 1222.7,1028.2 1221.7,1028.3 1220.7,1028.3 1219.7,1028.4 1218.7,1028.5 1217.7,1028.6 1216.7,1028.7 1215.7,1028.7 1214.7,1028.8 1213.7,1028.9 1212.7,1029.0 1211.7,1029.1 1210.7,1029.2 1209.7,1029.2 1208.7,1029.3 1207.7,1029.4 1206.7,1029.5 1205.7,1029.6 1204.7,1029.7 1203.7,1029.8 1202.7,1029.9Z" fill="#f7c1b3" stroke="none"/>
<path d="M1202.7,1020.7 1203.7,1020.7 1204.7,1020.6 1205.7,1020.6 1206.7,1020.5 1207.7,1020.5 1208.7,1020.4 1209.7,1020.4 1210.7,1020.3 1211.7,1020.3 1212.7,1020.2 1213.7,1020.2 1214.7,1020.1 1215.7,1020.1 1216.7,1020.0 1217.7,1020.0 1218.7,1019.9 1219.7,1019.8 1220.7,1019.8 1221.7,1019.7 1222.7,1019.7 1223.7,1019.6 1224.7,1019.6 1225.7,1019.6 1226.7,1019.5 1227.7,1019.5 1228.7,1019.4 1229.7,1019.4 1230.7,1019.3 1231.7,1019.3 1232.7,1019.2 1233.7,1019.2 1234.7,1019.1 1235.7,1019.0 1236.7,1018.9 1237.7,1018.8 1238.7,1018.6 1239.7,1018.3 1240.7,1017.2 1241.7,1015.4 1242.7,1013.1 1243.7,1010.6 1244.7,1008.1 1245.7,1005.9 1246.7,1003.8 1247.7,1001.8 1248.7,999.8 1249.7,997.7 1250.7,995.5 1251.7,993.2 1252.7,990.7 1253.7,988.1 1254.7,985.2 1255.7,981.9 1256.7,978.3 1257.7,974.3 1258.7,969.8 1259.7,964.9 1260.7,958.9 1261.7,950.0 1262.7,940.1 1263.7,932.1 1264.7,928.6 1265.7,930.3 1266.7,935.3 1267.7,942.2 1268.7,950.0 1269.7,957.7 1270.7,964.0 1271.7,968.4 1272.7,972.7 1273.7,976.9 1274.7,980.6 1275.7,983.6 1276.7,985.5 1277.7,986.1 1278.7,985.9 1279.7,985.7 1280.7,985.3 1281.7,984.7 1282.7,984.0 1283.7,983.2 1284.7,982.2 1285.7,981.1 1286.7,979.9 1287.7,978.5 1288.7,975.7 1289.7,971.2 1290.7,965.8 1291.7,960.6 1292.7,955.8 1293.7,950.1 1294.7,944.4 1295.7,939.6 1296.7,937.0 1297.7,937.3 1298.7,940.0 1299.7,944.2 1300.7,949.3 1301.7,954.5 1302.7,959.2 1303.7,962.6 1304.7,964.7 1305.7,966.7 1306.7,968.6 1307.7,970.2 1308.7,971.6 1309.7,972.6 1310.7,973.2 1311.7,973.2 1312.7,972.0 1313.7,969.8 1314.7,966.8 1315.7,963.2 1316.7,959.2 1317.7,955.0 1318.7,950.9 1319.7,945.1 1320.7,937.5 1321.7,929.4 1322.7,921.9 1323.7,916.4 1324.7,914.0 1325.7,914.9 1326.7,917.8 1327.7,922.2 1328.7,927.7 1329.7,934.0 1330.7,940.5 1331.7,946.8 1332.7,952.6 1333.7,957.4 1334.7,960.7 1335.7,962.3 1336.7,961.5 1337.7,958.3 1338.7,953.2 1339.7,946.6 1340.7,939.0 1341.7,931.0 1342.7,923.0 1343.7,915.5 1344.7,909.0 1345.7,904.0 1346.7,901.0 1347.7,900.4 1348.7,902.6 1349.7,906.9 1350.7,912.7 1351.7,919.4 1352.7,926.3 1353.7,932.6 1354.7,937.9 1355.7,941.3 1356.7,942.2 1357.7,939.6 1358.7,933.8 1359.7,925.7 1360.7,916.1 1361.7,906.1 1362.7,896.4 1363.7,888.0 1364.7,881.8 1365.7,878.6 1366.7,879.1 1367.7,882.6 1368.7,888.3 1369.7,895.3 1370.7,903.0 1371.7,910.7 1372.7,917.4 1373.7,922.6 1374.7,925.5 1375.7,925.2 1376.7,921.2 1377.7,914.3 1378.7,905.6 1379.7,896.0 1380.7,886.4 1381.7,877.9 1382.7,871.5 1383.7,868.1 1384.7,868.3 1385.7,871.5 1386.7,876.7 1387.7,883.1 1388.7,889.9 1389.7,896.3 1390.7,901.4 1391.7,904.6 1392.7,904.9 1393.7,902.2 1394.7,897.4 1395.7,891.2 1396.7,884.4 1397.7,877.9 1398.7,872.4 1399.7,868.8 1400.7,867.8 1401.7,869.6 1402.7,873.4 1403.7,878.7 1404.7,884.8 1405.7,891.0 1406.7,896.7 1407.7,901.1 1408.7,903.8 1409.7,903.9 1410.7,900.5 1411.7,894.4 1412.7,886.7 1413.7,878.4 1414.7,870.5 1415.7,864.1 1416.7,860.2 1417.7,859.8 1418.7,862.4 1419.7,867.1 1420.7,873.1 1421.7,879.5 1422.7,885.5 1423.7,890.3 1424.7,893.0 1425.7,892.8 1426.7,889.5 1427.7,884.0 1428.7,877.2 1429.7,869.9 1430.7,863.0 1431.7,857.4 1432.7,853.9 1433.7,853.3 1434.7,855.9 1435.7,860.7 1436.7,866.7 1437.7,873.0 1438.7,878.7 1439.7,882.7 1440.7,884.2 1441.7,882.9 1442.7,879.7 1443.7,875.3 1444.7,870.3 1445.7,865.4 1446.7,861.2 1447.7,858.5 1448.7,857.7 1449.7,859.1 1450.7,861.9 1451.7,865.6 1452.7,869.7 1453.7,873.6 1454.7,876.7 1455.7,878.5 1456.7,878.2 1457.7,875.1 1458.7,869.8 1459.7,863.5 1460.7,857.0 1461.7,851.5 1462.7,847.7 1463.7,846.8 1464.7,848.8 1465.7,852.7 1466.7,857.7 1467.7,863.1 1468.7,868.1 1469.7,871.7 1470.7,873.2 1471.7,872.1 1472.7,868.9 1473.7,864.5 1474.7,859.5 1475.7,854.7 1476.7,850.8 1477.7,848.8 1478.7,849.0 1479.7,851.0 1480.7,854.2 1481.7,857.9 1482.7,861.5 1483.7,864.3 1484.7,865.8 1485.7,865.2 1486.7,862.3 1487.7,857.9 1488.7,852.9 1489.7,848.1 1490.7,844.6 1491.7,843.1 1492.7,844.2 1493.7,847.2 1494.7,851.2 1495.7,855.4 1496.7,859.0 1497.7,861.1 1498.7,860.7 1499.7,856.6 1500.7,850.1 1501.7,842.4 1502.7,834.7 1503.7,828.6 1504.7,825.2 1505.7,825.4 1506.7,828.1 1507.7,832.2 1508.7,836.6 1509.7,840.3 1510.7,842.1 1511.7,841.6 1512.7,839.6 1513.7,836.5 1514.7,833.0 1515.7,829.6 1516.7,826.8 1517.7,825.1 1518.7,825.0 1519.7,825.7 1520.7,826.8 1521.7,828.1 1522.7,829.0 1523.7,829.4 1524.7,827.6 1525.7,823.2 1526.7,817.3 1527.7,811.2 1528.7,806.1 1529.7,803.2 1530.7,803.3 1531.7,805.2 1532.7,808.0 1533.7,811.0 1534.7,813.5 1535.7,814.8 1536.7,814.3 1537.7,812.5 1538.7,809.9 1539.7,807.3 1540.7,805.1 1541.7,803.9 1542.7,804.1 1543.7,804.8 1544.7,805.7 1545.7,806.7 1546.7,807.4 1547.7,807.3 1548.7,804.4 1549.7,799.2 1550.7,793.1 1551.7,787.8 1552.7,784.9 1553.7,784.3 1554.7,784.0 1555.7,783.8 1556.7,783.7 1557.7,783.5 1558.7,783.1 1559.7,782.4 1560.7,780.0 1561.7,776.4 1562.7,772.6 1563.7,769.6 1564.7,768.3 1565.7,768.3 1566.7,768.5 1567.7,768.8 1568.7,769.1 1569.7,769.5 1570.7,769.9 1571.7,770.2 1572.7,770.6 1573.0,770.7" fill="none" stroke="#ec3b37" stroke-width="2.3" stroke-linejoin="round"/>
<path d="M1202.7,1025.3 1203.7,1025.2 1204.7,1025.1 1205.7,1025.1 1206.7,1025.0 1207.7,1024.9 1208.7,1024.9 1209.7,1024.8 1210.7,1024.7 1211.7,1024.6 1212.7,1024.6 1213.7,1024.5 1214.7,1024.4 1215.7,1024.3 1216.7,1024.3 1217.7,1024.2 1218.7,1024.1 1219.7,1024.0 1220.7,1024.0 1221.7,1023.9 1222.7,1023.8 1223.7,1023.8 1224.7,1023.7 1225.7,1023.7 1226.7,1023.7 1227.7,1023.6 1228.7,1023.6 1229.7,1023.5 1230.7,1023.5 1231.7,1023.4 1232.7,1023.3 1233.7,1023.2 1234.7,1023.2 1235.7,1023.0 1236.7,1022.9 1237.7,1022.8 1238.7,1022.6 1239.7,1022.4 1240.7,1021.4 1241.7,1019.8 1242.7,1017.8 1243.7,1015.6 1244.7,1013.4 1245.7,1011.4 1246.7,1009.5 1247.7,1007.6 1248.7,1005.6 1249.7,1003.6 1250.7,1001.5 1251.7,999.3 1252.7,996.9 1253.7,994.3 1254.7,991.6 1255.7,988.4 1256.7,984.8 1257.7,980.7 1258.7,976.4 1259.7,971.9 1260.7,966.8 1261.7,959.9 1262.7,952.5 1263.7,946.6 1264.7,944.1 1265.7,945.4 1266.7,949.1 1267.7,954.4 1268.7,960.4 1269.7,966.4 1270.7,971.5 1271.7,975.4 1272.7,979.4 1273.7,983.4 1274.7,987.1 1275.7,990.0 1276.7,991.9 1277.7,992.4 1278.7,992.3 1279.7,992.0 1280.7,991.5 1281.7,990.9 1282.7,990.1 1283.7,989.1 1284.7,988.0 1285.7,986.8 1286.7,985.5 1287.7,984.0 1288.7,981.2 1289.7,977.1 1290.7,972.3 1291.7,967.7 1292.7,963.5 1293.7,958.7 1294.7,953.9 1295.7,950.0 1296.7,947.9 1297.7,948.2 1298.7,950.3 1299.7,953.7 1300.7,957.8 1301.7,962.1 1302.7,966.0 1303.7,969.0 1304.7,971.0 1305.7,973.0 1306.7,974.8 1307.7,976.5 1308.7,977.9 1309.7,979.0 1310.7,979.6 1311.7,979.5 1312.7,978.4 1313.7,976.1 1314.7,973.1 1315.7,969.6 1316.7,965.8 1317.7,961.9 1318.7,958.2 1319.7,953.7 1320.7,948.0 1321.7,942.2 1322.7,936.9 1323.7,933.0 1324.7,931.3 1325.7,932.1 1326.7,934.3 1327.7,937.8 1328.7,942.2 1329.7,947.2 1330.7,952.3 1331.7,957.3 1332.7,961.9 1333.7,965.7 1334.7,968.4 1335.7,969.6 1336.7,968.9 1337.7,966.0 1338.7,961.3 1339.7,955.3 1340.7,948.4 1341.7,941.1 1342.7,933.8 1343.7,926.9 1344.7,921.0 1345.7,916.4 1346.7,913.7 1347.7,913.2 1348.7,915.1 1349.7,918.8 1350.7,923.9 1351.7,929.7 1352.7,935.7 1353.7,941.2 1354.7,945.7 1355.7,948.7 1356.7,949.5 1357.7,947.3 1358.7,942.3 1359.7,935.3 1360.7,927.2 1361.7,918.5 1362.7,910.2 1363.7,903.0 1364.7,897.7 1365.7,895.0 1366.7,895.5 1367.7,898.6 1368.7,903.5 1369.7,909.8 1370.7,916.6 1371.7,923.4 1372.7,929.4 1373.7,934.0 1374.7,936.5 1375.7,936.3 1376.7,932.9 1377.7,927.3 1378.7,920.0 1379.7,912.1 1380.7,904.2 1381.7,897.2 1382.7,891.8 1383.7,889.0 1384.7,889.2 1385.7,891.9 1386.7,896.4 1387.7,901.8 1388.7,907.6 1389.7,913.1 1390.7,917.5 1391.7,920.2 1392.7,920.4 1393.7,918.1 1394.7,913.9 1395.7,908.4 1396.7,902.5 1397.7,896.7 1398.7,891.9 1399.7,888.7 1400.7,887.9 1401.7,889.4 1402.7,892.7 1403.7,897.2 1404.7,902.3 1405.7,907.6 1406.7,912.4 1407.7,916.2 1408.7,918.5 1409.7,918.5 1410.7,915.5 1411.7,910.0 1412.7,903.1 1413.7,895.6 1414.7,888.6 1415.7,882.8 1416.7,879.3 1417.7,878.9 1418.7,881.1 1419.7,885.2 1420.7,890.4 1421.7,895.9 1422.7,901.1 1423.7,905.3 1424.7,907.6 1425.7,907.4 1426.7,904.5 1427.7,899.5 1428.7,893.3 1429.7,886.7 1430.7,880.4 1431.7,875.2 1432.7,872.1 1433.7,871.6 1434.7,873.8 1435.7,878.0 1436.7,883.4 1437.7,888.9 1438.7,893.9 1439.7,897.5 1440.7,898.8 1441.7,897.5 1442.7,894.3 1443.7,889.9 1444.7,884.9 1445.7,880.0 1446.7,875.8 1447.7,873.1 1448.7,872.3 1449.7,873.6 1450.7,876.3 1451.7,879.9 1452.7,883.8 1453.7,887.5 1454.7,890.4 1455.7,892.2 1456.7,891.9 1457.7,888.9 1458.7,884.0 1459.7,878.0 1460.7,872.0 1461.7,866.7 1462.7,863.2 1463.7,862.3 1464.7,864.1 1465.7,867.8 1466.7,872.5 1467.7,877.5 1468.7,882.1 1469.7,885.5 1470.7,886.9 1471.7,885.8 1472.7,882.8 1473.7,878.5 1474.7,873.7 1475.7,869.0 1476.7,865.4 1477.7,863.3 1478.7,863.5 1479.7,865.4 1480.7,868.2 1481.7,871.5 1482.7,874.7 1483.7,877.3 1484.7,878.6 1485.7,878.0 1486.7,875.2 1487.7,871.0 1488.7,866.2 1489.7,861.6 1490.7,858.2 1491.7,856.8 1492.7,857.8 1493.7,860.4 1494.7,864.1 1495.7,867.9 1496.7,871.1 1497.7,873.0 1498.7,872.6 1499.7,869.2 1500.7,863.6 1501.7,857.1 1502.7,850.6 1503.7,845.4 1504.7,842.4 1505.7,842.7 1506.7,845.0 1507.7,848.4 1508.7,852.1 1509.7,855.2 1510.7,856.7 1511.7,856.2 1512.7,854.2 1513.7,851.1 1514.7,847.6 1515.7,844.2 1516.7,841.4 1517.7,839.7 1518.7,839.6 1519.7,840.8 1520.7,842.6 1521.7,844.6 1522.7,846.1 1523.7,846.8 1524.7,845.1 1525.7,841.2 1526.7,835.9 1527.7,830.4 1528.7,825.8 1529.7,823.3 1530.7,823.3 1531.7,824.6 1532.7,826.5 1533.7,828.6 1534.7,830.3 1535.7,831.2 1536.7,830.8 1537.7,829.3 1538.7,827.0 1539.7,824.5 1540.7,822.2 1541.7,820.5 1542.7,819.6 1543.7,819.0 1544.7,818.5 1545.7,817.9 1546.7,817.3 1547.7,816.3 1548.7,814.7 1549.7,812.7 1550.7,810.4 1551.7,808.4 1552.7,806.8 1553.7,805.8 1554.7,805.1 1555.7,804.5 1556.7,803.9 1557.7,803.3 1558.7,802.6 1559.7,801.5 1560.7,799.8 1561.7,797.7 1562.7,795.6 1563.7,793.9 1564.7,792.9 1565.7,792.6 1566.7,792.3 1567.7,792.0 1568.7,791.8 1569.7,791.7 1570.7,791.5 1571.7,791.3 1572.7,791.2 1573.0,791.1" fill="none" stroke="#ec3b37" stroke-width="2.3" stroke-linejoin="round"/>
<path d="M1202.7,1029.9 1203.7,1029.8 1204.7,1029.7 1205.7,1029.6 1206.7,1029.5 1207.7,1029.4 1208.7,1029.3 1209.7,1029.2 1210.7,1029.2 1211.7,1029.1 1212.7,1029.0 1213.7,1028.9 1214.7,1028.8 1215.7,1028.7 1216.7,1028.7 1217.7,1028.6 1218.7,1028.5 1219.7,1028.4 1220.7,1028.3 1221.7,1028.3 1222.7,1028.2 1223.7,1028.2 1224.7,1028.1 1225.7,1028.1 1226.7,1028.1 1227.7,1028.0 1228.7,1028.0 1229.7,1027.9 1230.7,1027.9 1231.7,1027.8 1232.7,1027.8 1233.7,1027.7 1234.7,1027.6 1235.7,1027.5 1236.7,1027.4 1237.7,1027.3 1238.7,1027.2 1239.7,1026.9 1240.7,1026.0 1241.7,1024.5 1242.7,1022.6 1243.7,1020.5 1244.7,1018.4 1245.7,1016.5 1246.7,1014.7 1247.7,1012.8 1248.7,1011.0 1249.7,1009.0 1250.7,1007.0 1251.7,1004.8 1252.7,1002.5 1253.7,1000.1 1254.7,997.4 1255.7,994.3 1256.7,990.8 1257.7,986.9 1258.7,982.8 1259.7,978.6 1260.7,974.1 1261.7,968.1 1262.7,962.0 1263.7,957.1 1264.7,955.0 1265.7,956.2 1266.7,959.4 1267.7,963.9 1268.7,969.2 1269.7,974.4 1270.7,979.0 1271.7,982.6 1272.7,986.3 1273.7,990.1 1274.7,993.6 1275.7,996.5 1276.7,998.3 1277.7,998.8 1278.7,998.7 1279.7,998.4 1280.7,997.9 1281.7,997.2 1282.7,996.4 1283.7,995.5 1284.7,994.4 1285.7,993.2 1286.7,991.8 1287.7,990.4 1288.7,987.7 1289.7,983.6 1290.7,979.1 1291.7,974.8 1292.7,971.2 1293.7,967.3 1294.7,963.5 1295.7,960.5 1296.7,958.8 1297.7,959.0 1298.7,960.6 1299.7,963.3 1300.7,966.4 1301.7,969.8 1302.7,973.0 1303.7,975.5 1304.7,977.3 1305.7,979.2 1306.7,981.1 1307.7,982.8 1308.7,984.2 1309.7,985.3 1310.7,986.0 1311.7,985.9 1312.7,984.7 1313.7,982.4 1314.7,979.4 1315.7,975.9 1316.7,972.2 1317.7,968.7 1318.7,965.6 1319.7,962.3 1320.7,958.4 1321.7,954.6 1322.7,951.2 1323.7,948.8 1324.7,947.7 1325.7,948.3 1326.7,950.0 1327.7,952.7 1328.7,956.0 1329.7,959.8 1330.7,963.7 1331.7,967.6 1332.7,971.0 1333.7,973.9 1334.7,976.0 1335.7,976.9 1336.7,976.3 1337.7,973.7 1338.7,969.6 1339.7,964.4 1340.7,958.4 1341.7,952.0 1342.7,945.7 1343.7,939.7 1344.7,934.6 1345.7,930.6 1346.7,928.2 1347.7,927.8 1348.7,929.3 1349.7,932.3 1350.7,936.3 1351.7,941.0 1352.7,945.7 1353.7,950.2 1354.7,953.8 1355.7,956.2 1356.7,956.8 1357.7,954.9 1358.7,950.6 1359.7,944.5 1360.7,937.4 1361.7,930.0 1362.7,922.8 1363.7,916.5 1364.7,911.9 1365.7,909.6 1366.7,910.0 1367.7,912.9 1368.7,917.6 1369.7,923.4 1370.7,929.8 1371.7,936.1 1372.7,941.7 1373.7,946.0 1374.7,948.4 1375.7,948.2 1376.7,945.6 1377.7,941.1 1378.7,935.4 1379.7,929.1 1380.7,922.9 1381.7,917.3 1382.7,913.1 1383.7,910.8 1384.7,911.0 1385.7,913.2 1386.7,916.7 1387.7,921.1 1388.7,925.7 1389.7,930.1 1390.7,933.6 1391.7,935.8 1392.7,935.9 1393.7,933.7 1394.7,929.6 1395.7,924.3 1396.7,918.5 1397.7,912.9 1398.7,908.2 1399.7,905.1 1400.7,904.3 1401.7,905.7 1402.7,908.9 1403.7,913.3 1404.7,918.3 1405.7,923.4 1406.7,928.1 1407.7,931.8 1408.7,934.0 1409.7,934.0 1410.7,931.2 1411.7,926.1 1412.7,919.7 1413.7,912.7 1414.7,906.2 1415.7,900.8 1416.7,897.5 1417.7,897.1 1418.7,899.0 1419.7,902.4 1420.7,906.8 1421.7,911.5 1422.7,915.9 1423.7,919.4 1424.7,921.3 1425.7,921.2 1426.7,918.6 1427.7,914.2 1428.7,908.8 1429.7,903.0 1430.7,897.5 1431.7,893.0 1432.7,890.2 1433.7,889.8 1434.7,891.7 1435.7,895.2 1436.7,899.6 1437.7,904.3 1438.7,908.4 1439.7,911.4 1440.7,912.4 1441.7,911.2 1442.7,908.0 1443.7,903.6 1444.7,898.6 1445.7,893.7 1446.7,889.5 1447.7,886.8 1448.7,886.0 1449.7,887.2 1450.7,889.8 1451.7,893.2 1452.7,896.9 1453.7,900.5 1454.7,903.3 1455.7,904.9 1456.7,904.7 1457.7,901.9 1458.7,897.3 1459.7,891.7 1460.7,886.0 1461.7,881.0 1462.7,877.7 1463.7,876.9 1464.7,878.7 1465.7,882.2 1466.7,886.7 1467.7,891.5 1468.7,896.0 1469.7,899.2 1470.7,900.6 1471.7,899.4 1472.7,896.2 1473.7,891.5 1474.7,886.3 1475.7,881.3 1476.7,877.4 1477.7,875.2 1478.7,875.4 1479.7,877.2 1480.7,880.1 1481.7,883.4 1482.7,886.6 1483.7,889.1 1484.7,890.5 1485.7,889.9 1486.7,887.2 1487.7,883.2 1488.7,878.5 1489.7,874.2 1490.7,870.9 1491.7,869.6 1492.7,870.5 1493.7,873.0 1494.7,876.4 1495.7,880.0 1496.7,883.1 1497.7,884.9 1498.7,884.5 1499.7,881.4 1500.7,876.3 1501.7,870.4 1502.7,864.5 1503.7,859.7 1504.7,857.0 1505.7,857.2 1506.7,859.4 1507.7,862.6 1508.7,866.1 1509.7,869.0 1510.7,870.4 1511.7,869.9 1512.7,867.9 1513.7,864.8 1514.7,861.3 1515.7,857.9 1516.7,855.1 1517.7,853.4 1518.7,853.3 1519.7,854.8 1520.7,857.1 1521.7,859.5 1522.7,861.5 1523.7,862.3 1524.7,860.8 1525.7,857.3 1526.7,852.7 1527.7,847.8 1528.7,843.8 1529.7,841.5 1530.7,841.5 1531.7,842.3 1532.7,843.6 1533.7,845.0 1534.7,846.1 1535.7,846.7 1536.7,846.3 1537.7,844.8 1538.7,842.7 1539.7,840.3 1540.7,838.2 1541.7,836.9 1542.7,836.4 1543.7,836.0 1544.7,835.8 1545.7,835.5 1546.7,835.2 1547.7,834.7 1548.7,834.0 1549.7,832.9 1550.7,831.8 1551.7,830.6 1552.7,829.6 1553.7,828.7 1554.7,827.9 1555.7,827.2 1556.7,826.4 1557.7,825.6 1558.7,824.6 1559.7,823.4 1560.7,821.5 1561.7,819.2 1562.7,816.9 1563.7,815.0 1564.7,813.9 1565.7,813.5 1566.7,813.1 1567.7,812.8 1568.7,812.5 1569.7,812.3 1570.7,812.1 1571.7,811.9 1572.7,811.6 1573.0,811.5" fill="none" stroke="#ec3b37" stroke-width="2.3" stroke-linejoin="round"/></g>
<rect x="1203.6" y="691.1" width="368.7" height="355.9" fill="none" stroke="#1a1a1a" stroke-width="2.4"/>
<line x1="1203.6" y1="928.4" x2="1215.1" y2="928.4" stroke="#1a1a1a" stroke-width="2.2"/>
<line x1="1203.6" y1="809.7" x2="1215.1" y2="809.7" stroke="#1a1a1a" stroke-width="2.2"/>
<line x1="1388.7" y1="1047.0" x2="1388.7" y2="1035.5" stroke="#1a1a1a" stroke-width="2.2"/>
<text class="t" text-anchor="end" x="1191.4" y="1052.9">0</text>
<text class="t" text-anchor="end" x="1191.4" y="935.5">1</text>
<text class="t" text-anchor="end" x="1191.4" y="818.2">2</text>
<text class="t" text-anchor="end" x="1191.4" y="700.8">3</text>
<text class="t" text-anchor="middle" x="1204.5" y="1078.3">0</text>
<text class="t" text-anchor="middle" x="1388.3" y="1078.3">2</text>
<text class="t" text-anchor="middle" x="1570.1" y="1078.3">4</text>
<text class="t" x="1310.5" y="1118.4" textLength="155" lengthAdjust="spacing">Position (µm)</text>
<text class="t" transform="translate(1151.0 866.2) rotate(-90)" x="-143.5" y="0" textLength="286.5" lengthAdjust="spacing">Intensity (arbitrary units)</text>
<clipPath id="cph"><rect x="1736.4" y="691.1" width="371.1" height="354.3"/></clipPath>
<g clip-path="url(#cph)"><path d="M1734.9,1013.1 1735.9,1013.3 1736.9,1013.6 1737.9,1014.0 1738.9,1014.3 1739.9,1014.6 1740.9,1014.9 1741.9,1015.2 1742.9,1015.4 1743.9,1015.5 1744.9,1015.5 1745.9,1015.3 1746.9,1014.9 1747.9,1014.3 1748.9,1013.6 1749.9,1012.8 1750.9,1012.0 1751.9,1011.3 1752.9,1010.8 1753.9,1010.4 1754.9,1010.0 1755.9,1009.7 1756.9,1009.3 1757.9,1009.0 1758.9,1008.8 1759.9,1008.7 1760.9,1008.6 1761.9,1008.9 1762.9,1009.5 1763.9,1010.4 1764.9,1011.3 1765.9,1012.3 1766.9,1013.2 1767.9,1013.9 1768.9,1014.2 1769.9,1014.2 1770.9,1013.5 1771.9,1012.2 1772.9,1010.6 1773.9,1008.8 1774.9,1007.0 1775.9,1005.2 1776.9,1003.7 1777.9,1002.6 1778.9,1002.0 1779.9,1002.2 1780.9,1003.2 1781.9,1004.5 1782.9,1005.8 1783.9,1006.7 1784.9,1006.8 1785.9,1005.8 1786.9,1003.8 1787.9,1001.2 1788.9,993.6 1789.9,975.6 1790.9,950.2 1791.9,920.2 1792.9,889.0 1793.9,859.4 1794.9,834.6 1795.9,817.6 1796.9,811.6 1797.9,816.1 1798.9,828.1 1799.9,845.9 1800.9,867.8 1801.9,892.2 1802.9,917.6 1803.9,942.1 1804.9,964.3 1805.9,982.4 1806.9,994.9 1807.9,1000.0 1808.9,999.7 1809.9,998.8 1810.9,997.4 1811.9,995.7 1812.9,994.1 1813.9,992.8 1814.9,991.9 1815.9,991.7 1816.9,992.4 1817.9,993.7 1818.9,995.3 1819.9,996.8 1820.9,997.9 1821.9,997.6 1822.9,986.9 1823.9,965.6 1824.9,938.0 1825.9,908.2 1826.9,880.6 1827.9,859.3 1828.9,848.7 1829.9,848.9 1830.9,852.0 1831.9,857.2 1832.9,864.3 1833.9,873.1 1834.9,883.1 1835.9,894.1 1836.9,905.9 1837.9,918.1 1838.9,930.4 1839.9,942.6 1840.9,954.4 1841.9,965.5 1842.9,975.6 1843.9,984.4 1844.9,991.7 1845.9,997.0 1846.9,1000.3 1847.9,1000.9 1848.9,992.4 1849.9,973.8 1850.9,948.0 1851.9,917.9 1852.9,886.2 1853.9,855.8 1854.9,829.5 1855.9,810.3 1856.9,800.8 1857.9,802.8 1858.9,813.3 1859.9,830.5 1860.9,852.8 1861.9,878.5 1862.9,905.7 1863.9,933.0 1864.9,958.5 1865.9,980.6 1866.9,997.6 1867.9,1007.8 1868.9,1009.4 1869.9,1001.4 1870.9,985.2 1871.9,962.8 1872.9,936.2 1873.9,907.3 1874.9,878.1 1875.9,850.6 1876.9,826.6 1877.9,808.3 1878.9,797.4 1879.9,796.2 1880.9,805.7 1881.9,824.1 1882.9,848.8 1883.9,877.4 1884.9,907.5 1885.9,936.6 1886.9,962.2 1887.9,982.0 1888.9,993.4 1889.9,993.5 1890.9,978.9 1891.9,952.2 1892.9,917.4 1893.9,878.5 1894.9,839.4 1895.9,804.0 1896.9,776.2 1897.9,759.9 1898.9,758.8 1899.9,773.1 1900.9,799.0 1901.9,832.8 1902.9,870.7 1903.9,909.0 1904.9,944.0 1905.9,971.8 1906.9,988.8 1907.9,991.3 1908.9,979.5 1909.9,956.6 1910.9,926.0 1911.9,891.0 1912.9,854.9 1913.9,821.0 1914.9,792.6 1915.9,773.0 1916.9,765.5 1917.9,774.3 1918.9,798.1 1919.9,831.6 1920.9,869.7 1921.9,907.1 1922.9,938.6 1923.9,959.0 1924.9,963.3 1925.9,951.9 1926.9,929.2 1927.9,899.2 1928.9,865.6 1929.9,832.4 1930.9,803.5 1931.9,782.9 1932.9,774.4 1933.9,780.6 1934.9,799.2 1935.9,826.4 1936.9,858.6 1937.9,892.2 1938.9,923.5 1939.9,949.0 1940.9,965.0 1941.9,967.9 1942.9,955.8 1943.9,931.8 1944.9,899.9 1945.9,863.9 1946.9,827.7 1947.9,795.1 1948.9,770.0 1949.9,756.3 1950.9,757.8 1951.9,774.3 1952.9,801.5 1953.9,834.8 1954.9,869.5 1955.9,901.1 1956.9,924.9 1957.9,936.4 1958.9,932.0 1959.9,914.7 1960.9,888.3 1961.9,856.9 1962.9,824.5 1963.9,795.1 1964.9,772.7 1965.9,761.4 1966.9,765.1 1967.9,783.4 1968.9,811.4 1969.9,844.2 1970.9,877.0 1971.9,905.0 1972.9,923.1 1973.9,926.7 1974.9,917.0 1975.9,898.0 1976.9,873.3 1977.9,846.3 1978.9,820.6 1979.9,799.5 1980.9,786.7 1981.9,785.5 1982.9,796.0 1983.9,814.9 1984.9,838.8 1985.9,864.0 1986.9,887.1 1987.9,904.5 1988.9,912.9 1989.9,908.0 1990.9,889.9 1991.9,863.1 1992.9,832.5 1993.9,802.7 1994.9,778.5 1995.9,764.7 1996.9,765.3 1997.9,777.9 1998.9,798.7 1999.9,824.1 2000.9,850.4 2001.9,873.9 2002.9,890.9 2003.9,897.8 2004.9,892.1 2005.9,876.7 2006.9,855.4 2007.9,832.0 2008.9,810.4 2009.9,794.7 2010.9,788.5 2011.9,792.2 2012.9,802.0 2013.9,815.7 2014.9,831.5 2015.9,847.2 2016.9,861.0 2017.9,870.6 2018.9,874.2 2019.9,866.4 2020.9,847.7 2021.9,824.0 2022.9,801.1 2023.9,785.0 2024.9,781.2 2025.9,788.3 2026.9,802.2 2027.9,819.8 2028.9,838.2 2029.9,854.3 2030.9,865.3 2031.9,867.8 2032.9,856.6 2033.9,834.3 2034.9,806.4 2035.9,778.6 2036.9,756.5 2037.9,745.7 2038.9,749.2 2039.9,762.2 2040.9,780.6 2041.9,800.4 2042.9,817.9 2043.9,829.0 2044.9,830.4 2045.9,824.6 2046.9,814.3 2047.9,801.5 2048.9,788.5 2049.9,777.2 2050.9,769.7 2051.9,768.1 2052.9,773.2 2053.9,782.7 2054.9,793.8 2055.9,803.9 2056.9,810.1 2057.9,809.1 2058.9,796.6 2059.9,776.6 2060.9,754.2 2061.9,734.3 2062.9,721.9 2063.9,721.1 2064.9,729.1 2065.9,742.4 2066.9,758.4 2067.9,774.3 2068.9,787.2 2069.9,794.4 2070.9,793.5 2071.9,786.3 2072.9,776.0 2073.9,765.5 2074.9,758.1 2075.9,756.7 2076.9,760.7 2077.9,767.8 2078.9,776.2 2079.9,784.1 2080.9,789.4 2081.9,790.3 2082.9,784.2 2083.9,772.9 2084.9,759.2 2085.9,745.9 2086.9,735.8 2087.9,731.8 2088.9,734.1 2089.9,739.4 2090.9,745.5 2091.9,750.5 2092.9,751.9 2093.9,747.6 2094.9,738.7 2095.9,728.0 2096.9,718.1 2097.9,711.5 2098.9,710.5 2099.9,712.0 2100.9,714.9 2101.9,718.8 2102.9,723.5 2103.9,728.7 2104.9,734.1 2105.9,739.3 2106.9,744.1 2107.5,746.6 2107.5,886.0 2106.9,883.7 2105.9,879.3 2104.9,874.5 2103.9,869.7 2102.9,864.9 2101.9,860.6 2100.9,857.0 2099.9,854.4 2098.9,853.0 2097.9,853.6 2096.9,857.2 2095.9,862.8 2094.9,868.9 2093.9,873.9 2092.9,876.3 2091.9,875.8 2090.9,874.0 2089.9,871.7 2088.9,869.8 2087.9,869.0 2086.9,870.6 2085.9,874.6 2084.9,879.9 2083.9,885.3 2082.9,889.9 2081.9,892.3 2080.9,891.8 2079.9,889.0 2078.9,884.8 2077.9,880.3 2076.9,876.6 2075.9,874.4 2074.9,875.5 2073.9,881.1 2072.9,888.9 2071.9,896.7 2070.9,902.1 2069.9,902.9 2068.9,899.9 2067.9,894.6 2066.9,888.0 2065.9,881.3 2064.9,875.8 2063.9,872.5 2062.9,873.3 2061.9,881.6 2060.9,895.0 2059.9,910.1 2058.9,923.5 2057.9,931.9 2056.9,932.0 2055.9,922.8 2054.9,908.1 2053.9,891.8 2052.9,877.9 2051.9,870.4 2050.9,871.8 2049.9,879.2 2048.9,890.3 2047.9,903.1 2046.9,915.6 2045.9,925.7 2044.9,931.4 2043.9,930.6 2042.9,922.8 2041.9,910.5 2040.9,896.5 2039.9,883.6 2038.9,874.5 2037.9,872.0 2036.9,879.3 2035.9,894.4 2034.9,913.4 2033.9,932.4 2032.9,947.7 2031.9,955.4 2030.9,952.9 2029.9,942.8 2028.9,928.0 2027.9,911.1 2026.9,894.9 2025.9,882.2 2024.9,875.7 2023.9,878.8 2022.9,892.4 2021.9,911.5 2020.9,931.4 2019.9,947.1 2018.9,953.6 2017.9,950.5 2016.9,941.9 2015.9,929.8 2014.9,915.8 2013.9,901.8 2012.9,889.6 2011.9,881.0 2010.9,877.7 2009.9,883.0 2008.9,896.5 2007.9,914.9 2006.9,934.9 2005.9,953.2 2004.9,966.4 2003.9,971.2 2002.9,966.4 2001.9,954.6 2000.9,938.3 1999.9,920.1 1998.9,902.4 1997.9,887.9 1996.9,879.2 1995.9,878.8 1994.9,888.7 1993.9,905.9 1992.9,927.2 1991.9,949.1 1990.9,968.2 1989.9,981.2 1988.9,984.6 1987.9,977.8 1986.9,963.6 1985.9,944.8 1984.9,924.3 1983.9,904.9 1982.9,889.5 1981.9,880.9 1980.9,882.0 1979.9,892.7 1978.9,910.3 1977.9,931.8 1976.9,954.4 1975.9,975.0 1974.9,990.9 1973.9,999.0 1972.9,996.4 1971.9,983.1 1970.9,962.7 1969.9,938.7 1968.9,914.7 1967.9,894.2 1966.9,880.9 1965.9,878.2 1964.9,886.6 1963.9,903.4 1962.9,925.3 1961.9,949.6 1960.9,973.1 1959.9,992.9 1958.9,1005.9 1957.9,1009.1 1956.9,1001.0 1955.9,984.0 1954.9,961.6 1953.9,936.9 1952.9,913.2 1951.9,893.9 1950.9,882.1 1949.9,881.1 1948.9,890.9 1947.9,908.8 1946.9,932.0 1945.9,957.9 1944.9,983.6 1943.9,1006.4 1942.9,1023.5 1941.9,1032.1 1940.9,1029.8 1939.9,1017.2 1938.9,997.2 1937.9,972.6 1936.9,946.2 1935.9,920.9 1934.9,899.5 1933.9,885.0 1932.9,880.1 1931.9,886.7 1930.9,902.8 1929.9,925.3 1928.9,951.2 1927.9,977.3 1926.9,1000.8 1925.9,1018.5 1924.9,1027.3 1923.9,1024.1 1922.9,1008.7 1921.9,984.8 1920.9,956.5 1919.9,927.7 1918.9,902.4 1917.9,884.4 1916.9,877.7 1915.9,884.0 1914.9,900.5 1913.9,924.5 1912.9,953.1 1911.9,983.6 1910.9,1013.1 1909.9,1039.0 1908.9,1058.2 1907.9,1068.2 1906.9,1066.0 1905.9,1051.1 1904.9,1026.7 1903.9,996.1 1902.9,962.4 1901.9,929.2 1900.9,899.6 1899.9,876.8 1898.9,864.4 1897.9,865.3 1896.9,880.3 1895.9,905.7 1894.9,938.2 1893.9,974.0 1892.9,1009.6 1891.9,1041.4 1890.9,1065.9 1889.9,1079.3 1888.9,1078.9 1887.9,1067.1 1886.9,1046.7 1885.9,1020.2 1884.9,990.1 1883.9,959.0 1882.9,929.4 1881.9,903.8 1880.9,884.9 1879.9,875.0 1878.9,876.3 1877.9,887.6 1876.9,906.7 1875.9,931.4 1874.9,959.5 1873.9,989.0 1872.9,1017.6 1871.9,1043.3 1870.9,1063.8 1869.9,1077.0 1868.9,1080.8 1867.9,1076.5 1866.9,1066.5 1865.9,1052.0 1864.9,1034.2 1863.9,1014.2 1862.9,993.3 1861.9,972.7 1860.9,953.5 1859.9,936.9 1858.9,924.2 1857.9,916.5 1856.9,914.8 1855.9,918.0 1854.9,924.7 1853.9,934.5 1852.9,946.5 1851.9,960.3 1850.9,975.2 1849.9,990.5 1848.9,1005.8 1847.9,1020.2 1846.9,1033.3 1845.9,1044.4 1844.9,1052.9 1843.9,1058.1 1842.9,1059.5 1841.9,1056.8 1840.9,1050.6 1839.9,1041.4 1838.9,1029.9 1837.9,1016.7 1836.9,1002.4 1835.9,987.6 1834.9,973.0 1833.9,959.1 1832.9,946.5 1831.9,935.9 1830.9,927.9 1829.9,923.1 1828.9,922.5 1827.9,933.2 1826.9,954.2 1825.9,980.9 1824.9,1008.7 1823.9,1032.9 1822.9,1048.8 1821.9,1052.4 1820.9,1050.6 1819.9,1047.4 1818.9,1043.4 1817.9,1039.4 1816.9,1036.2 1815.9,1034.6 1814.9,1035.0 1813.9,1036.6 1812.9,1039.2 1811.9,1042.2 1810.9,1045.5 1809.9,1048.5 1808.9,1050.8 1807.9,1052.3 1806.9,1051.7 1805.9,1044.9 1804.9,1032.4 1803.9,1015.6 1802.9,996.1 1801.9,975.5 1800.9,955.1 1799.9,936.6 1798.9,921.5 1797.9,911.2 1796.9,907.2 1795.9,911.2 1794.9,922.4 1793.9,938.8 1792.9,958.4 1791.9,979.3 1790.9,999.4 1789.9,1016.8 1788.9,1029.5 1787.9,1035.6 1786.9,1038.6 1785.9,1040.8 1784.9,1042.0 1783.9,1041.8 1782.9,1040.5 1781.9,1038.7 1780.9,1036.8 1779.9,1035.5 1778.9,1035.2 1777.9,1035.7 1776.9,1036.5 1775.9,1037.8 1774.9,1039.2 1773.9,1040.7 1772.9,1042.1 1771.9,1043.4 1770.9,1044.4 1769.9,1045.0 1768.9,1045.0 1767.9,1044.5 1766.9,1043.6 1765.9,1042.4 1764.9,1041.2 1763.9,1039.9 1762.9,1038.8 1761.9,1038.0 1760.9,1037.7 1759.9,1037.7 1758.9,1037.7 1757.9,1037.7 1756.9,1037.8 1755.9,1037.9 1754.9,1038.0 1753.9,1038.1 1752.9,1038.2 1751.9,1038.6 1750.9,1039.1 1749.9,1039.7 1748.9,1040.3 1747.9,1041.0 1746.9,1041.5 1745.9,1041.9 1744.9,1042.1 1743.9,1042.0 1742.9,1041.9 1741.9,1041.6 1740.9,1041.3 1739.9,1040.9 1738.9,1040.5 1737.9,1040.1 1736.9,1039.6 1735.9,1039.2 1734.9,1038.9Z" fill="#f7c1b3" stroke="none"/>
<path d="M1734.9,1013.1 1735.9,1013.3 1736.9,1013.6 1737.9,1014.0 1738.9,1014.3 1739.9,1014.6 1740.9,1014.9 1741.9,1015.2 1742.9,1015.4 1743.9,1015.5 1744.9,1015.5 1745.9,1015.3 1746.9,1014.9 1747.9,1014.3 1748.9,1013.6 1749.9,1012.8 1750.9,1012.0 1751.9,1011.3 1752.9,1010.8 1753.9,1010.4 1754.9,1010.0 1755.9,1009.7 1756.9,1009.3 1757.9,1009.0 1758.9,1008.8 1759.9,1008.7 1760.9,1008.6 1761.9,1008.9 1762.9,1009.5 1763.9,1010.4 1764.9,1011.3 1765.9,1012.3 1766.9,1013.2 1767.9,1013.9 1768.9,1014.2 1769.9,1014.2 1770.9,1013.5 1771.9,1012.2 1772.9,1010.6 1773.9,1008.8 1774.9,1007.0 1775.9,1005.2 1776.9,1003.7 1777.9,1002.6 1778.9,1002.0 1779.9,1002.2 1780.9,1003.2 1781.9,1004.5 1782.9,1005.8 1783.9,1006.7 1784.9,1006.8 1785.9,1005.8 1786.9,1003.8 1787.9,1001.2 1788.9,993.6 1789.9,975.6 1790.9,950.2 1791.9,920.2 1792.9,889.0 1793.9,859.4 1794.9,834.6 1795.9,817.6 1796.9,811.6 1797.9,816.1 1798.9,828.1 1799.9,845.9 1800.9,867.8 1801.9,892.2 1802.9,917.6 1803.9,942.1 1804.9,964.3 1805.9,982.4 1806.9,994.9 1807.9,1000.0 1808.9,999.7 1809.9,998.8 1810.9,997.4 1811.9,995.7 1812.9,994.1 1813.9,992.8 1814.9,991.9 1815.9,991.7 1816.9,992.4 1817.9,993.7 1818.9,995.3 1819.9,996.8 1820.9,997.9 1821.9,997.6 1822.9,986.9 1823.9,965.6 1824.9,938.0 1825.9,908.2 1826.9,880.6 1827.9,859.3 1828.9,848.7 1829.9,848.9 1830.9,852.0 1831.9,857.2 1832.9,864.3 1833.9,873.1 1834.9,883.1 1835.9,894.1 1836.9,905.9 1837.9,918.1 1838.9,930.4 1839.9,942.6 1840.9,954.4 1841.9,965.5 1842.9,975.6 1843.9,984.4 1844.9,991.7 1845.9,997.0 1846.9,1000.3 1847.9,1000.9 1848.9,992.4 1849.9,973.8 1850.9,948.0 1851.9,917.9 1852.9,886.2 1853.9,855.8 1854.9,829.5 1855.9,810.3 1856.9,800.8 1857.9,802.8 1858.9,813.3 1859.9,830.5 1860.9,852.8 1861.9,878.5 1862.9,905.7 1863.9,933.0 1864.9,958.5 1865.9,980.6 1866.9,997.6 1867.9,1007.8 1868.9,1009.4 1869.9,1001.4 1870.9,985.2 1871.9,962.8 1872.9,936.2 1873.9,907.3 1874.9,878.1 1875.9,850.6 1876.9,826.6 1877.9,808.3 1878.9,797.4 1879.9,796.2 1880.9,805.7 1881.9,824.1 1882.9,848.8 1883.9,877.4 1884.9,907.5 1885.9,936.6 1886.9,962.2 1887.9,982.0 1888.9,993.4 1889.9,993.5 1890.9,978.9 1891.9,952.2 1892.9,917.4 1893.9,878.5 1894.9,839.4 1895.9,804.0 1896.9,776.2 1897.9,759.9 1898.9,758.8 1899.9,773.1 1900.9,799.0 1901.9,832.8 1902.9,870.7 1903.9,909.0 1904.9,944.0 1905.9,971.8 1906.9,988.8 1907.9,991.3 1908.9,979.5 1909.9,956.6 1910.9,926.0 1911.9,891.0 1912.9,854.9 1913.9,821.0 1914.9,792.6 1915.9,773.0 1916.9,765.5 1917.9,774.3 1918.9,798.1 1919.9,831.6 1920.9,869.7 1921.9,907.1 1922.9,938.6 1923.9,959.0 1924.9,963.3 1925.9,951.9 1926.9,929.2 1927.9,899.2 1928.9,865.6 1929.9,832.4 1930.9,803.5 1931.9,782.9 1932.9,774.4 1933.9,780.6 1934.9,799.2 1935.9,826.4 1936.9,858.6 1937.9,892.2 1938.9,923.5 1939.9,949.0 1940.9,965.0 1941.9,967.9 1942.9,955.8 1943.9,931.8 1944.9,899.9 1945.9,863.9 1946.9,827.7 1947.9,795.1 1948.9,770.0 1949.9,756.3 1950.9,757.8 1951.9,774.3 1952.9,801.5 1953.9,834.8 1954.9,869.5 1955.9,901.1 1956.9,924.9 1957.9,936.4 1958.9,932.0 1959.9,914.7 1960.9,888.3 1961.9,856.9 1962.9,824.5 1963.9,795.1 1964.9,772.7 1965.9,761.4 1966.9,765.1 1967.9,783.4 1968.9,811.4 1969.9,844.2 1970.9,877.0 1971.9,905.0 1972.9,923.1 1973.9,926.7 1974.9,917.0 1975.9,898.0 1976.9,873.3 1977.9,846.3 1978.9,820.6 1979.9,799.5 1980.9,786.7 1981.9,785.5 1982.9,796.0 1983.9,814.9 1984.9,838.8 1985.9,864.0 1986.9,887.1 1987.9,904.5 1988.9,912.9 1989.9,908.0 1990.9,889.9 1991.9,863.1 1992.9,832.5 1993.9,802.7 1994.9,778.5 1995.9,764.7 1996.9,765.3 1997.9,777.9 1998.9,798.7 1999.9,824.1 2000.9,850.4 2001.9,873.9 2002.9,890.9 2003.9,897.8 2004.9,892.1 2005.9,876.7 2006.9,855.4 2007.9,832.0 2008.9,810.4 2009.9,794.7 2010.9,788.5 2011.9,792.2 2012.9,802.0 2013.9,815.7 2014.9,831.5 2015.9,847.2 2016.9,861.0 2017.9,870.6 2018.9,874.2 2019.9,866.4 2020.9,847.7 2021.9,824.0 2022.9,801.1 2023.9,785.0 2024.9,781.2 2025.9,788.3 2026.9,802.2 2027.9,819.8 2028.9,838.2 2029.9,854.3 2030.9,865.3 2031.9,867.8 2032.9,856.6 2033.9,834.3 2034.9,806.4 2035.9,778.6 2036.9,756.5 2037.9,745.7 2038.9,749.2 2039.9,762.2 2040.9,780.6 2041.9,800.4 2042.9,817.9 2043.9,829.0 2044.9,830.4 2045.9,824.6 2046.9,814.3 2047.9,801.5 2048.9,788.5 2049.9,777.2 2050.9,769.7 2051.9,768.1 2052.9,773.2 2053.9,782.7 2054.9,793.8 2055.9,803.9 2056.9,810.1 2057.9,809.1 2058.9,796.6 2059.9,776.6 2060.9,754.2 2061.9,734.3 2062.9,721.9 2063.9,721.1 2064.9,729.1 2065.9,742.4 2066.9,758.4 2067.9,774.3 2068.9,787.2 2069.9,794.4 2070.9,793.5 2071.9,786.3 2072.9,776.0 2073.9,765.5 2074.9,758.1 2075.9,756.7 2076.9,760.7 2077.9,767.8 2078.9,776.2 2079.9,784.1 2080.9,789.4 2081.9,790.3 2082.9,784.2 2083.9,772.9 2084.9,759.2 2085.9,745.9 2086.9,735.8 2087.9,731.8 2088.9,734.1 2089.9,739.4 2090.9,745.5 2091.9,750.5 2092.9,751.9 2093.9,747.6 2094.9,738.7 2095.9,728.0 2096.9,718.1 2097.9,711.5 2098.9,710.5 2099.9,712.0 2100.9,714.9 2101.9,718.8 2102.9,723.5 2103.9,728.7 2104.9,734.1 2105.9,739.3 2106.9,744.1 2107.5,746.6" fill="none" stroke="#ec3b37" stroke-width="2.3" stroke-linejoin="round"/>
<path d="M1734.9,1025.4 1735.9,1025.7 1736.9,1026.1 1737.9,1026.5 1738.9,1026.9 1739.9,1027.2 1740.9,1027.6 1741.9,1027.9 1742.9,1028.1 1743.9,1028.3 1744.9,1028.3 1745.9,1028.1 1746.9,1027.8 1747.9,1027.2 1748.9,1026.6 1749.9,1025.9 1750.9,1025.3 1751.9,1024.7 1752.9,1024.3 1753.9,1024.0 1754.9,1023.8 1755.9,1023.5 1756.9,1023.3 1757.9,1023.1 1758.9,1023.0 1759.9,1022.9 1760.9,1022.9 1761.9,1023.2 1762.9,1023.9 1763.9,1024.8 1764.9,1025.8 1765.9,1026.9 1766.9,1027.9 1767.9,1028.6 1768.9,1029.0 1769.9,1028.9 1770.9,1028.3 1771.9,1027.2 1772.9,1025.8 1773.9,1024.1 1774.9,1022.4 1775.9,1020.9 1776.9,1019.5 1777.9,1018.5 1778.9,1018.0 1779.9,1018.2 1780.9,1019.2 1781.9,1020.5 1782.9,1021.8 1783.9,1022.7 1784.9,1022.8 1785.9,1021.6 1786.9,1019.2 1787.9,1016.0 1788.9,1009.0 1789.9,993.8 1790.9,972.7 1791.9,948.3 1792.9,923.0 1793.9,899.1 1794.9,879.1 1795.9,865.4 1796.9,860.6 1797.9,864.6 1798.9,875.1 1799.9,890.7 1800.9,910.0 1801.9,931.4 1802.9,953.7 1803.9,975.3 1804.9,994.7 1805.9,1010.7 1806.9,1021.6 1807.9,1026.1 1808.9,1025.7 1809.9,1024.1 1810.9,1022.0 1811.9,1019.5 1812.9,1017.0 1813.9,1014.9 1814.9,1013.5 1815.9,1013.2 1816.9,1014.6 1817.9,1017.4 1818.9,1020.7 1819.9,1023.8 1820.9,1025.9 1821.9,1026.0 1822.9,1015.9 1823.9,995.8 1824.9,969.6 1825.9,941.5 1826.9,915.4 1827.9,895.3 1828.9,885.3 1829.9,885.6 1830.9,889.2 1831.9,895.4 1832.9,903.6 1833.9,913.5 1834.9,924.9 1835.9,937.2 1836.9,950.1 1837.9,963.2 1838.9,976.2 1839.9,988.6 1840.9,1000.2 1841.9,1010.5 1842.9,1019.1 1843.9,1025.7 1844.9,1029.8 1845.9,1031.2 1846.9,1027.1 1847.9,1016.3 1848.9,1000.4 1849.9,980.7 1850.9,958.7 1851.9,935.9 1852.9,913.6 1853.9,893.2 1854.9,876.3 1855.9,864.3 1856.9,858.5 1857.9,860.2 1858.9,868.8 1859.9,883.0 1860.9,901.4 1861.9,922.8 1862.9,945.7 1863.9,968.9 1864.9,991.1 1865.9,1011.0 1866.9,1027.1 1867.9,1038.2 1868.9,1043.0 1869.9,1039.2 1870.9,1025.9 1871.9,1005.4 1872.9,979.7 1873.9,951.1 1874.9,921.5 1875.9,893.3 1876.9,868.6 1877.9,849.5 1878.9,838.2 1879.9,836.8 1880.9,846.2 1881.9,864.4 1882.9,888.8 1883.9,917.1 1884.9,946.9 1885.9,975.6 1886.9,1001.0 1887.9,1020.5 1888.9,1031.8 1889.9,1032.0 1890.9,1018.3 1891.9,993.4 1892.9,961.0 1893.9,924.7 1894.9,888.2 1895.9,855.2 1896.9,829.2 1897.9,814.0 1898.9,813.1 1899.9,826.5 1900.9,851.0 1901.9,882.9 1902.9,918.8 1903.9,955.0 1904.9,988.0 1905.9,1014.3 1906.9,1030.3 1907.9,1032.7 1908.9,1021.6 1909.9,1000.2 1910.9,971.5 1911.9,938.7 1912.9,904.8 1913.9,873.0 1914.9,846.4 1915.9,828.0 1916.9,821.0 1917.9,828.8 1918.9,849.7 1919.9,879.3 1920.9,912.8 1921.9,945.8 1922.9,973.5 1923.9,991.5 1924.9,995.2 1925.9,985.1 1926.9,964.9 1927.9,938.1 1928.9,908.2 1929.9,878.6 1930.9,852.9 1931.9,834.5 1932.9,827.0 1933.9,832.5 1934.9,849.1 1935.9,873.4 1936.9,902.2 1937.9,932.2 1938.9,960.2 1939.9,983.0 1940.9,997.3 1941.9,999.9 1942.9,989.6 1943.9,969.2 1944.9,942.1 1945.9,911.4 1946.9,880.6 1947.9,852.9 1948.9,831.5 1949.9,819.9 1950.9,821.1 1951.9,835.2 1952.9,858.4 1953.9,886.8 1954.9,916.4 1955.9,943.3 1956.9,963.6 1957.9,973.4 1958.9,969.6 1959.9,954.6 1960.9,931.6 1961.9,904.4 1962.9,876.3 1963.9,850.8 1964.9,831.4 1965.9,821.6 1966.9,824.7 1967.9,840.4 1968.9,864.4 1969.9,892.6 1970.9,920.8 1971.9,944.7 1972.9,960.3 1973.9,963.4 1974.9,954.5 1975.9,937.1 1976.9,914.4 1977.9,889.6 1978.9,866.0 1979.9,846.7 1980.9,834.9 1981.9,833.8 1982.9,843.4 1983.9,860.6 1984.9,882.2 1985.9,905.1 1986.9,926.1 1987.9,941.9 1988.9,949.5 1989.9,945.4 1990.9,929.8 1991.9,906.8 1992.9,880.5 1993.9,854.9 1994.9,834.2 1995.9,822.4 1996.9,822.8 1997.9,833.6 1998.9,851.3 1999.9,872.9 2000.9,895.2 2001.9,915.2 2002.9,929.7 2003.9,935.6 2004.9,930.3 2005.9,915.8 2006.9,895.7 2007.9,873.7 2008.9,853.4 2009.9,838.6 2010.9,832.8 2011.9,836.4 2012.9,845.8 2013.9,859.1 2014.9,874.3 2015.9,889.5 2016.9,902.7 2017.9,912.1 2018.9,915.5 2019.9,908.2 2020.9,890.7 2021.9,868.5 2022.9,847.1 2023.9,832.0 2024.9,828.5 2025.9,835.4 2026.9,848.8 2027.9,866.0 2028.9,883.8 2029.9,899.6 2030.9,910.2 2031.9,912.8 2032.9,903.3 2033.9,884.4 2034.9,860.8 2035.9,837.2 2036.9,818.6 2037.9,809.5 2038.9,812.4 2039.9,823.1 2040.9,838.3 2041.9,854.7 2042.9,869.2 2043.9,878.4 2044.9,879.5 2045.9,873.8 2046.9,863.8 2047.9,851.4 2048.9,838.7 2049.9,827.7 2050.9,820.4 2051.9,819.0 2052.9,824.8 2053.9,835.7 2054.9,848.5 2055.9,860.1 2056.9,867.3 2057.9,866.8 2058.9,857.2 2059.9,841.8 2060.9,824.5 2061.9,809.2 2062.9,799.6 2063.9,798.9 2064.9,804.3 2065.9,813.3 2066.9,824.0 2067.9,834.6 2068.9,843.3 2069.9,848.1 2070.9,847.4 2071.9,841.8 2072.9,833.8 2073.9,825.7 2074.9,819.9 2075.9,818.8 2076.9,821.3 2077.9,825.7 2078.9,831.0 2079.9,835.8 2080.9,839.1 2081.9,839.6 2082.9,835.6 2083.9,828.2 2084.9,819.3 2085.9,810.6 2086.9,804.0 2087.9,801.4 2088.9,802.6 2089.9,805.4 2090.9,808.6 2091.9,811.2 2092.9,812.0 2093.9,808.8 2094.9,802.4 2095.9,794.7 2096.9,787.6 2097.9,782.9 2098.9,782.2 2099.9,783.6 2100.9,786.2 2101.9,789.8 2102.9,794.1 2103.9,798.8 2104.9,803.7 2105.9,808.5 2106.9,812.8 2107.5,815.1" fill="none" stroke="#ec3b37" stroke-width="2.3" stroke-linejoin="round"/>
<path d="M1734.9,1038.9 1735.9,1039.2 1736.9,1039.6 1737.9,1040.1 1738.9,1040.5 1739.9,1040.9 1740.9,1041.3 1741.9,1041.6 1742.9,1041.9 1743.9,1042.0 1744.9,1042.1 1745.9,1041.9 1746.9,1041.5 1747.9,1041.0 1748.9,1040.3 1749.9,1039.7 1750.9,1039.1 1751.9,1038.6 1752.9,1038.2 1753.9,1038.1 1754.9,1038.0 1755.9,1037.9 1756.9,1037.8 1757.9,1037.7 1758.9,1037.7 1759.9,1037.7 1760.9,1037.7 1761.9,1038.0 1762.9,1038.8 1763.9,1039.9 1764.9,1041.2 1765.9,1042.4 1766.9,1043.6 1767.9,1044.5 1768.9,1045.0 1769.9,1045.0 1770.9,1044.4 1771.9,1043.4 1772.9,1042.1 1773.9,1040.7 1774.9,1039.2 1775.9,1037.8 1776.9,1036.5 1777.9,1035.7 1778.9,1035.2 1779.9,1035.5 1780.9,1036.8 1781.9,1038.7 1782.9,1040.5 1783.9,1041.8 1784.9,1042.0 1785.9,1040.8 1786.9,1038.6 1787.9,1035.6 1788.9,1029.5 1789.9,1016.8 1790.9,999.4 1791.9,979.3 1792.9,958.4 1793.9,938.8 1794.9,922.4 1795.9,911.2 1796.9,907.2 1797.9,911.2 1798.9,921.5 1799.9,936.6 1800.9,955.1 1801.9,975.5 1802.9,996.1 1803.9,1015.6 1804.9,1032.4 1805.9,1044.9 1806.9,1051.7 1807.9,1052.3 1808.9,1050.8 1809.9,1048.5 1810.9,1045.5 1811.9,1042.2 1812.9,1039.2 1813.9,1036.6 1814.9,1035.0 1815.9,1034.6 1816.9,1036.2 1817.9,1039.4 1818.9,1043.4 1819.9,1047.4 1820.9,1050.6 1821.9,1052.4 1822.9,1048.8 1823.9,1032.9 1824.9,1008.7 1825.9,980.9 1826.9,954.2 1827.9,933.2 1828.9,922.5 1829.9,923.1 1830.9,927.9 1831.9,935.9 1832.9,946.5 1833.9,959.1 1834.9,973.0 1835.9,987.6 1836.9,1002.4 1837.9,1016.7 1838.9,1029.9 1839.9,1041.4 1840.9,1050.6 1841.9,1056.8 1842.9,1059.5 1843.9,1058.1 1844.9,1052.9 1845.9,1044.4 1846.9,1033.3 1847.9,1020.2 1848.9,1005.8 1849.9,990.5 1850.9,975.2 1851.9,960.3 1852.9,946.5 1853.9,934.5 1854.9,924.7 1855.9,918.0 1856.9,914.8 1857.9,916.5 1858.9,924.2 1859.9,936.9 1860.9,953.5 1861.9,972.7 1862.9,993.3 1863.9,1014.2 1864.9,1034.2 1865.9,1052.0 1866.9,1066.5 1867.9,1076.5 1868.9,1080.8 1869.9,1077.0 1870.9,1063.8 1871.9,1043.3 1872.9,1017.6 1873.9,989.0 1874.9,959.5 1875.9,931.4 1876.9,906.7 1877.9,887.6 1878.9,876.3 1879.9,875.0 1880.9,884.9 1881.9,903.8 1882.9,929.4 1883.9,959.0 1884.9,990.1 1885.9,1020.2 1886.9,1046.7 1887.9,1067.1 1888.9,1078.9 1889.9,1079.3 1890.9,1065.9 1891.9,1041.4 1892.9,1009.6 1893.9,974.0 1894.9,938.2 1895.9,905.7 1896.9,880.3 1897.9,865.3 1898.9,864.4 1899.9,876.8 1900.9,899.6 1901.9,929.2 1902.9,962.4 1903.9,996.1 1904.9,1026.7 1905.9,1051.1 1906.9,1066.0 1907.9,1068.2 1908.9,1058.2 1909.9,1039.0 1910.9,1013.1 1911.9,983.6 1912.9,953.1 1913.9,924.5 1914.9,900.5 1915.9,884.0 1916.9,877.7 1917.9,884.4 1918.9,902.4 1919.9,927.7 1920.9,956.5 1921.9,984.8 1922.9,1008.7 1923.9,1024.1 1924.9,1027.3 1925.9,1018.5 1926.9,1000.8 1927.9,977.3 1928.9,951.2 1929.9,925.3 1930.9,902.8 1931.9,886.7 1932.9,880.1 1933.9,885.0 1934.9,899.5 1935.9,920.9 1936.9,946.2 1937.9,972.6 1938.9,997.2 1939.9,1017.2 1940.9,1029.8 1941.9,1032.1 1942.9,1023.5 1943.9,1006.4 1944.9,983.6 1945.9,957.9 1946.9,932.0 1947.9,908.8 1948.9,890.9 1949.9,881.1 1950.9,882.1 1951.9,893.9 1952.9,913.2 1953.9,936.9 1954.9,961.6 1955.9,984.0 1956.9,1001.0 1957.9,1009.1 1958.9,1005.9 1959.9,992.9 1960.9,973.1 1961.9,949.6 1962.9,925.3 1963.9,903.4 1964.9,886.6 1965.9,878.2 1966.9,880.9 1967.9,894.2 1968.9,914.7 1969.9,938.7 1970.9,962.7 1971.9,983.1 1972.9,996.4 1973.9,999.0 1974.9,990.9 1975.9,975.0 1976.9,954.4 1977.9,931.8 1978.9,910.3 1979.9,892.7 1980.9,882.0 1981.9,880.9 1982.9,889.5 1983.9,904.9 1984.9,924.3 1985.9,944.8 1986.9,963.6 1987.9,977.8 1988.9,984.6 1989.9,981.2 1990.9,968.2 1991.9,949.1 1992.9,927.2 1993.9,905.9 1994.9,888.7 1995.9,878.8 1996.9,879.2 1997.9,887.9 1998.9,902.4 1999.9,920.1 2000.9,938.3 2001.9,954.6 2002.9,966.4 2003.9,971.2 2004.9,966.4 2005.9,953.2 2006.9,934.9 2007.9,914.9 2008.9,896.5 2009.9,883.0 2010.9,877.7 2011.9,881.0 2012.9,889.6 2013.9,901.8 2014.9,915.8 2015.9,929.8 2016.9,941.9 2017.9,950.5 2018.9,953.6 2019.9,947.1 2020.9,931.4 2021.9,911.5 2022.9,892.4 2023.9,878.8 2024.9,875.7 2025.9,882.2 2026.9,894.9 2027.9,911.1 2028.9,928.0 2029.9,942.8 2030.9,952.9 2031.9,955.4 2032.9,947.7 2033.9,932.4 2034.9,913.4 2035.9,894.4 2036.9,879.3 2037.9,872.0 2038.9,874.5 2039.9,883.6 2040.9,896.5 2041.9,910.5 2042.9,922.8 2043.9,930.6 2044.9,931.4 2045.9,925.7 2046.9,915.6 2047.9,903.1 2048.9,890.3 2049.9,879.2 2050.9,871.8 2051.9,870.4 2052.9,877.9 2053.9,891.8 2054.9,908.1 2055.9,922.8 2056.9,932.0 2057.9,931.9 2058.9,923.5 2059.9,910.1 2060.9,895.0 2061.9,881.6 2062.9,873.3 2063.9,872.5 2064.9,875.8 2065.9,881.3 2066.9,888.0 2067.9,894.6 2068.9,899.9 2069.9,902.9 2070.9,902.1 2071.9,896.7 2072.9,888.9 2073.9,881.1 2074.9,875.5 2075.9,874.4 2076.9,876.6 2077.9,880.3 2078.9,884.8 2079.9,889.0 2080.9,891.8 2081.9,892.3 2082.9,889.9 2083.9,885.3 2084.9,879.9 2085.9,874.6 2086.9,870.6 2087.9,869.0 2088.9,869.8 2089.9,871.7 2090.9,874.0 2091.9,875.8 2092.9,876.3 2093.9,873.9 2094.9,868.9 2095.9,862.8 2096.9,857.2 2097.9,853.6 2098.9,853.0 2099.9,854.4 2100.9,857.0 2101.9,860.6 2102.9,864.9 2103.9,869.7 2104.9,874.5 2105.9,879.3 2106.9,883.7 2107.5,886.0" fill="none" stroke="#ec3b37" stroke-width="2.3" stroke-linejoin="round"/></g>
<rect x="1736.4" y="691.1" width="371.1" height="354.3" fill="none" stroke="#1a1a1a" stroke-width="2.4"/>
<line x1="1736.4" y1="927.3" x2="1747.9" y2="927.3" stroke="#1a1a1a" stroke-width="2.2"/>
<line x1="1736.4" y1="809.2" x2="1747.9" y2="809.2" stroke="#1a1a1a" stroke-width="2.2"/>
<line x1="1919.7" y1="1045.4" x2="1919.7" y2="1033.9" stroke="#1a1a1a" stroke-width="2.2"/>
<text class="t" text-anchor="end" x="1724.2" y="1055.0">0</text>
<text class="t" text-anchor="end" x="1724.2" y="937.6">1</text>
<text class="t" text-anchor="end" x="1724.2" y="820.3">2</text>
<text class="t" text-anchor="end" x="1724.2" y="702.9">3</text>
<text class="t" text-anchor="middle" x="1737.3" y="1078.3">0</text>
<text class="t" text-anchor="middle" x="1919.3" y="1078.3">2</text>
<text class="t" text-anchor="middle" x="2105.3" y="1078.3">4</text>
<text class="t" x="1841.5" y="1118.4" textLength="155" lengthAdjust="spacing">Position (µm)</text>
<text class="t" transform="translate(1683.8 865.5) rotate(-90)" x="-143.5" y="0" textLength="286.5" lengthAdjust="spacing">Intensity (arbitrary units)</text>
</svg></body></html>
